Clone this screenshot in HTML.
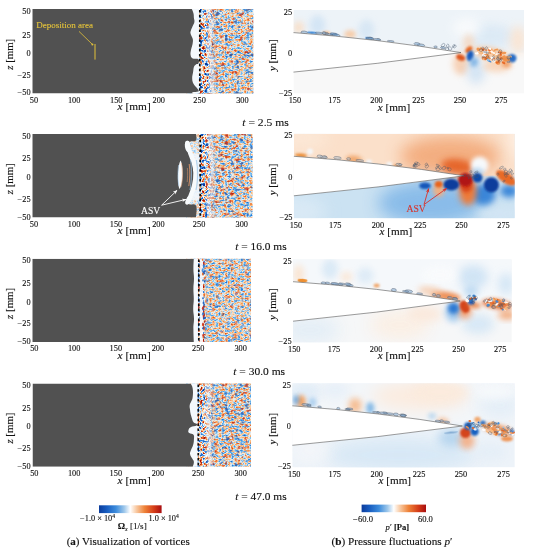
<!DOCTYPE html>
<html lang="en"><head><meta charset="utf-8"><title>Figure</title>
<style>
html,body{margin:0;padding:0;background:#fff;}
svg{display:block;font-family:"Liberation Serif",serif;}
</style></head><body>
<svg width="533" height="550" viewBox="0 0 533 550">
<defs>
<filter id="nzA" x="0" y="0" width="100%" height="100%" color-interpolation-filters="sRGB">
<feTurbulence type="fractalNoise" baseFrequency="0.36 0.30" numOctaves="2" seed="11"/>
<feColorMatrix type="matrix" values="2.0 0 0 0 -0.5  2.0 0 0 0 -0.5  2.0 0 0 0 -0.5  0 0 0 0 1"/>
<feComponentTransfer>
<feFuncR type="table" tableValues="0.05 0.10 0.25 0.66 1 0.98 0.93 0.84 0.66"/>
<feFuncG type="table" tableValues="0.22 0.38 0.56 0.82 1 0.80 0.52 0.28 0.06"/>
<feFuncB type="table" tableValues="0.60 0.78 0.88 0.96 1 0.60 0.26 0.12 0.06"/>
</feComponentTransfer>
<feGaussianBlur stdDeviation="0.35"/>
</filter>
<filter id="nzC" x="0" y="0" width="100%" height="100%" color-interpolation-filters="sRGB">
<feTurbulence type="fractalNoise" baseFrequency="0.20 0.24" numOctaves="2" seed="23"/>
<feColorMatrix type="matrix" values="1.7 0 0 0 -0.35  1.7 0 0 0 -0.35  1.7 0 0 0 -0.35  1.7 0 0 0 -0.35"/>
<feComponentTransfer>
<feFuncR type="table" tableValues="0.06 0.12 0.25 0.60 1 0.98 0.93 0.86 0.70"/>
<feFuncG type="table" tableValues="0.28 0.42 0.58 0.80 1 0.78 0.50 0.30 0.10"/>
<feFuncB type="table" tableValues="0.66 0.80 0.88 0.95 1 0.56 0.26 0.14 0.06"/>
<feFuncA type="table" tableValues="1 0.9 0.35 0 0 0 0.35 0.9 1"/>
</feComponentTransfer>
<feGaussianBlur stdDeviation="0.4"/>
</filter>
<linearGradient id="fadeR" x1="0" x2="1" y1="0" y2="0"><stop offset="0" stop-color="#fff"/><stop offset="0.55" stop-color="#fff"/><stop offset="1" stop-color="#000"/></linearGradient>
<filter id="nzB" x="0" y="0" width="100%" height="100%" color-interpolation-filters="sRGB">
<feTurbulence type="fractalNoise" baseFrequency="0.32 0.46" numOctaves="2" seed="5"/>
<feColorMatrix type="matrix" values="1.5 0 0 0 -0.225  1.5 0 0 0 -0.225  1.5 0 0 0 -0.225  0 0 0 0 1"/>
<feComponentTransfer>
<feFuncR type="table" tableValues="0.10 0.20 0.36 0.58 0.92 0.98 0.97 0.95 0.86"/>
<feFuncG type="table" tableValues="0.42 0.54 0.67 0.80 0.93 0.80 0.68 0.50 0.28"/>
<feFuncB type="table" tableValues="0.84 0.88 0.92 0.95 0.94 0.62 0.42 0.24 0.10"/>
</feComponentTransfer>
<feGaussianBlur stdDeviation="0.4"/>
</filter>
<filter id="b1" x="-50%" y="-50%" width="200%" height="200%"><feGaussianBlur stdDeviation="1"/></filter>
<filter id="b2" x="-50%" y="-50%" width="200%" height="200%"><feGaussianBlur stdDeviation="2"/></filter>
<filter id="b3" x="-50%" y="-50%" width="200%" height="200%"><feGaussianBlur stdDeviation="3.2"/></filter>
<filter id="b5" x="-50%" y="-50%" width="200%" height="200%"><feGaussianBlur stdDeviation="5"/></filter>
<filter id="b8" x="-50%" y="-50%" width="200%" height="200%"><feGaussianBlur stdDeviation="8"/></filter>
<filter id="b05" x="-50%" y="-50%" width="200%" height="200%"><feGaussianBlur stdDeviation="0.5"/></filter>
<linearGradient id="cbar" x1="0" x2="1" y1="0" y2="0">
<stop offset="0" stop-color="#0b3c9c"/><stop offset="0.12" stop-color="#175cc0"/><stop offset="0.27" stop-color="#3d8cdc"/>
<stop offset="0.40" stop-color="#9cc6ea"/><stop offset="0.5" stop-color="#ffffff"/><stop offset="0.60" stop-color="#f8c8a0"/>
<stop offset="0.73" stop-color="#ee8238"/><stop offset="0.88" stop-color="#d43c18"/><stop offset="1" stop-color="#a80d10"/>
</linearGradient>
<marker id="arW" viewBox="0 0 10 10" refX="9" refY="5" markerWidth="5" markerHeight="5" orient="auto"><path d="M0,1 L10,5 L0,9 L3,5 z" fill="#fff"/></marker>
<marker id="arR" viewBox="0 0 10 10" refX="9" refY="5" markerWidth="5" markerHeight="5" orient="auto"><path d="M0,1 L10,5 L0,9 L3,5 z" fill="#d8322a"/></marker>

<clipPath id="ca0"><rect x="32.3" y="9.1" width="221.00" height="84.50"/></clipPath>
<clipPath id="ca1"><rect x="32.3" y="134.1" width="220.30" height="83.30"/></clipPath>
<clipPath id="ca2"><rect x="32.3" y="258.8" width="218.70" height="83.10"/></clipPath>
<clipPath id="ca3"><rect x="32.5" y="383.6" width="218.50" height="83.10"/></clipPath>
<clipPath id="cb0"><rect x="293.5" y="10.1" width="230.50" height="83.50"/></clipPath>
<clipPath id="cb1"><rect x="293.9" y="133.8" width="220.90" height="84.50"/></clipPath>
<clipPath id="cb2"><rect x="293.0" y="259.2" width="218.80" height="83.20"/></clipPath>
<clipPath id="cb3"><rect x="292.3" y="383.3" width="222.50" height="84.10"/></clipPath>
</defs>
<rect width="533" height="550" fill="#fff"/>
<g clip-path="url(#ca0)">
<rect x="186" y="8.1" width="68.3" height="86.5" filter="url(#nzB)"/>
<rect x="198.3" y="8.1" width="56.0" height="86.5" filter="url(#nzC)" opacity="0.75"/>
<mask id="mk0" maskUnits="userSpaceOnUse" x="198.3" y="8.1" width="19" height="86.5"><rect x="198.3" y="8.1" width="19" height="86.5" fill="url(#fadeR)"/></mask>
<g mask="url(#mk0)"><rect x="198.3" y="8.1" width="19" height="86.5" filter="url(#nzA)"/></g>
<path d="M210.1,7.1 L207.9,15.6 L212.7,21.7 L208.4,29.4 L212.3,35.8 L207.8,42.6 L208.4,51.1 L210.9,58.7 L212.7,65.5 L210.8,71.3 L212.7,76.7 L210.4,82.3 L212.3,90.6 L212.3,96.0" fill="none" stroke="#f4f8fb" stroke-width="4.2" stroke-linejoin="round" opacity="0.62" filter="url(#b1)"/>
<rect x="186" y="8.1" width="13.2" height="86.5" fill="#f4f8fc"/>
<path d="M32.3,9.1 L191.8,9.1 C192.2,10.0 193.0,11.5 193.5,13.4 C194.0,15.3 193.7,15.8 193.9,17.7 C194.1,19.6 194.7,20.1 194.4,21.9 C194.1,23.7 193.4,24.3 192.7,26.1 C192.0,27.9 191.5,28.6 191.0,30.3 C190.5,32.0 190.2,31.8 190.6,33.7 C191.0,35.6 192.2,36.7 192.7,38.8 C193.2,40.9 192.9,41.3 192.7,43.1 C192.5,44.9 192.2,45.6 191.8,47.1 C191.4,48.6 191.3,48.3 191.0,50.1 C190.7,51.9 190.2,53.3 190.6,55.1 C191.0,56.9 191.0,57.5 192.7,58.4 C194.4,59.3 197.1,58.2 198.4,59.3 C199.7,60.4 198.9,62.4 198.4,63.5 C197.9,64.6 197.0,63.7 196.0,64.4 C195.0,65.1 194.5,65.2 193.9,66.9 C193.3,68.6 193.5,69.5 193.1,72.1 C192.7,74.7 192.1,76.1 192.2,78.7 C192.3,81.3 192.7,82.0 193.5,83.8 C194.3,85.6 195.0,85.8 196.0,87.1 C197.0,88.4 197.7,88.7 198.2,89.7 C198.7,90.7 199.4,91.0 198.2,91.6 C197.0,92.2 193.9,91.9 192.7,92.3 C191.5,92.7 192.7,93.3 192.7,93.6 L32.3,93.6Z" fill="#515151"/>
<line x1="199.8" y1="9.9" x2="199.8" y2="93.6" stroke="#0a0a0a" stroke-width="1.7" stroke-dasharray="2.5 2.4"/>
</g>
<text x="30.60" y="14.10" font-size="8.3" text-anchor="end" fill="#111" stroke="#111" stroke-width="0.12" >50</text>
<text x="30.60" y="37.50" font-size="8.3" text-anchor="end" fill="#111" stroke="#111" stroke-width="0.12" >25</text>
<text x="30.60" y="56.30" font-size="8.3" text-anchor="end" fill="#111" stroke="#111" stroke-width="0.12" >0</text>
<text x="30.60" y="77.90" font-size="8.3" text-anchor="end" fill="#111" stroke="#111" stroke-width="0.12" >−25</text>
<text x="30.60" y="95.10" font-size="8.3" text-anchor="end" fill="#111" stroke="#111" stroke-width="0.12" >−50</text>
<text x="34.00" y="102.95" font-size="8.3" text-anchor="middle" fill="#111" stroke="#111" stroke-width="0.12" >50</text>
<text x="74.20" y="102.95" font-size="8.3" text-anchor="middle" fill="#111" stroke="#111" stroke-width="0.12" >100</text>
<text x="116.30" y="102.95" font-size="8.3" text-anchor="middle" fill="#111" stroke="#111" stroke-width="0.12" >150</text>
<text x="158.80" y="102.95" font-size="8.3" text-anchor="middle" fill="#111" stroke="#111" stroke-width="0.12" >200</text>
<text x="199.60" y="102.95" font-size="8.3" text-anchor="middle" fill="#111" stroke="#111" stroke-width="0.12" >250</text>
<text x="242.40" y="102.95" font-size="8.3" text-anchor="middle" fill="#111" stroke="#111" stroke-width="0.12" >300</text>
<text x="134.10" y="110.40" font-size="11.2" text-anchor="middle" fill="#111" stroke="#111" stroke-width="0.12"  textLength="33.2" lengthAdjust="spacingAndGlyphs"><tspan font-style="italic">x</tspan> [mm]</text>
<text x="0.00" y="0.00" font-size="11.2" text-anchor="middle" fill="#111" stroke="#111" stroke-width="0.12" transform="translate(13.2,54.3) rotate(-90)" textLength="31" lengthAdjust="spacingAndGlyphs"><tspan font-style="italic">z</tspan> [mm]</text>
<g clip-path="url(#ca1)">
<rect x="186" y="133.1" width="67.6" height="85.3" filter="url(#nzB)"/>
<rect x="198.7" y="133.1" width="54.9" height="85.3" filter="url(#nzC)" opacity="0.75"/>
<mask id="mk1" maskUnits="userSpaceOnUse" x="198.7" y="133.1" width="18" height="85.3"><rect x="198.7" y="133.1" width="18" height="85.3" fill="url(#fadeR)"/></mask>
<g mask="url(#mk1)"><rect x="198.7" y="133.1" width="18" height="85.3" filter="url(#nzA)"/></g>
<path d="M210.1,132.1 L209.0,138.0 L211.1,146.7 L211.0,154.4 L211.9,161.0 L212.2,168.3 L212.5,175.9 L208.9,182.7 L211.9,188.3 L211.5,194.0 L208.4,201.4 L208.3,209.6 L212.5,218.0" fill="none" stroke="#f4f8fb" stroke-width="4.2" stroke-linejoin="round" opacity="0.62" filter="url(#b1)"/>
<rect x="186" y="154.1" width="13.6" height="46" fill="#eef4fa" opacity="0.9"/>
<rect x="186" y="133.1" width="13.6" height="85.3" fill="#f4f8fc" opacity="0.45"/>
<path d="M32.3,134.1 L196.0,134.1 C196.0,135.5 197.4,138.8 196.0,140.6 C194.6,142.4 190.9,140.0 189.5,142.1 C188.1,144.2 189.0,147.5 189.5,150.1 C190.0,152.7 190.8,152.3 191.6,154.1 C192.4,155.9 192.5,155.5 193.2,158.1 C193.9,160.7 194.5,163.0 195.0,166.1 C195.5,169.2 195.6,169.0 195.6,172.1 C195.6,175.2 195.5,176.6 195.0,180.1 C194.5,183.6 194.4,184.6 193.4,188.1 C192.4,191.6 191.6,193.5 190.6,196.1 C189.6,198.7 189.4,198.3 189.0,200.1 C188.6,201.9 187.1,202.9 188.6,204.1 C190.1,205.3 194.4,202.7 196.0,205.6 C197.6,208.5 196.0,214.8 196.0,217.4 L32.3,217.4Z" fill="#515151"/>
<line x1="200.2" y1="134.9" x2="200.2" y2="217.4" stroke="#0a0a0a" stroke-width="1.7" stroke-dasharray="2.5 2.4"/>
</g>
<text x="30.60" y="138.60" font-size="8.3" text-anchor="end" fill="#111" stroke="#111" stroke-width="0.12" >50</text>
<text x="30.60" y="161.10" font-size="8.3" text-anchor="end" fill="#111" stroke="#111" stroke-width="0.12" >25</text>
<text x="30.60" y="180.00" font-size="8.3" text-anchor="end" fill="#111" stroke="#111" stroke-width="0.12" >0</text>
<text x="30.60" y="201.60" font-size="8.3" text-anchor="end" fill="#111" stroke="#111" stroke-width="0.12" >−25</text>
<text x="30.60" y="219.70" font-size="8.3" text-anchor="end" fill="#111" stroke="#111" stroke-width="0.12" >−50</text>
<text x="33.99" y="226.75" font-size="8.3" text-anchor="middle" fill="#111" stroke="#111" stroke-width="0.12" >50</text>
<text x="74.07" y="226.75" font-size="8.3" text-anchor="middle" fill="#111" stroke="#111" stroke-width="0.12" >100</text>
<text x="116.03" y="226.75" font-size="8.3" text-anchor="middle" fill="#111" stroke="#111" stroke-width="0.12" >150</text>
<text x="158.40" y="226.75" font-size="8.3" text-anchor="middle" fill="#111" stroke="#111" stroke-width="0.12" >200</text>
<text x="199.07" y="226.75" font-size="8.3" text-anchor="middle" fill="#111" stroke="#111" stroke-width="0.12" >250</text>
<text x="241.73" y="226.75" font-size="8.3" text-anchor="middle" fill="#111" stroke="#111" stroke-width="0.12" >300</text>
<text x="134.10" y="234.20" font-size="11.2" text-anchor="middle" fill="#111" stroke="#111" stroke-width="0.12"  textLength="33.2" lengthAdjust="spacingAndGlyphs"><tspan font-style="italic">x</tspan> [mm]</text>
<text x="0.00" y="0.00" font-size="11.2" text-anchor="middle" fill="#111" stroke="#111" stroke-width="0.12" transform="translate(13.2,178.8) rotate(-90)" textLength="31" lengthAdjust="spacingAndGlyphs"><tspan font-style="italic">z</tspan> [mm]</text>
<g clip-path="url(#ca2)">
<rect x="186" y="257.8" width="66.0" height="85.1" filter="url(#nzB)"/>
<rect x="197.3" y="257.8" width="54.7" height="85.1" filter="url(#nzC)" opacity="0.4"/>
<mask id="mk2" maskUnits="userSpaceOnUse" x="197.3" y="257.8" width="11" height="85.1"><rect x="197.3" y="257.8" width="11" height="85.1" fill="url(#fadeR)"/></mask>
<g mask="url(#mk2)"><rect x="197.3" y="257.8" width="11" height="85.1" filter="url(#nzA)"/></g>
<rect x="199.6" y="257.8" width="3.4" height="85.1" fill="#f8fafc" opacity="0.92"/>
<ellipse cx="202.9" cy="325.2" rx="0.9" ry="1.1" fill="#e8651f" opacity="0.9"/>
<ellipse cx="203.4" cy="336.9" rx="0.9" ry="1.5" fill="#e8651f" opacity="0.9"/>
<ellipse cx="203.5" cy="309.6" rx="0.9" ry="1.6" fill="#1c5cc0" opacity="0.9"/>
<ellipse cx="202.6" cy="259.0" rx="0.9" ry="2.0" fill="#e8651f" opacity="0.9"/>
<ellipse cx="203.4" cy="273.1" rx="0.9" ry="1.8" fill="#1c5cc0" opacity="0.9"/>
<ellipse cx="202.8" cy="274.0" rx="0.9" ry="1.5" fill="#e8651f" opacity="0.9"/>
<ellipse cx="202.9" cy="280.4" rx="0.9" ry="1.1" fill="#3a86d6" opacity="0.9"/>
<ellipse cx="203.7" cy="265.5" rx="0.9" ry="1.9" fill="#1c5cc0" opacity="0.9"/>
<ellipse cx="202.8" cy="308.3" rx="0.9" ry="1.8" fill="#c8281a" opacity="0.9"/>
<ellipse cx="203.8" cy="317.6" rx="0.9" ry="1.8" fill="#1c5cc0" opacity="0.9"/>
<ellipse cx="203.9" cy="266.7" rx="0.9" ry="1.9" fill="#3a86d6" opacity="0.9"/>
<ellipse cx="203.0" cy="324.0" rx="0.9" ry="1.6" fill="#c8281a" opacity="0.9"/>
<ellipse cx="203.2" cy="335.2" rx="0.9" ry="1.5" fill="#c8281a" opacity="0.9"/>
<ellipse cx="203.8" cy="327.6" rx="0.9" ry="1.9" fill="#3a86d6" opacity="0.9"/>
<ellipse cx="203.5" cy="302.9" rx="0.9" ry="1.3" fill="#1c5cc0" opacity="0.9"/>
<ellipse cx="202.6" cy="270.3" rx="0.9" ry="2.0" fill="#3a86d6" opacity="0.9"/>
<ellipse cx="203.8" cy="263.1" rx="0.9" ry="1.7" fill="#c8281a" opacity="0.9"/>
<ellipse cx="204.2" cy="294.8" rx="0.9" ry="1.9" fill="#e8651f" opacity="0.9"/>
<ellipse cx="203.6" cy="316.0" rx="0.9" ry="1.8" fill="#c8281a" opacity="0.9"/>
<ellipse cx="203.1" cy="313.2" rx="0.9" ry="1.0" fill="#1c5cc0" opacity="0.9"/>
<ellipse cx="204.1" cy="328.9" rx="0.9" ry="1.7" fill="#e8651f" opacity="0.9"/>
<ellipse cx="203.9" cy="306.6" rx="0.9" ry="1.1" fill="#c8281a" opacity="0.9"/>
<ellipse cx="203.7" cy="327.7" rx="0.9" ry="1.2" fill="#c8281a" opacity="0.9"/>
<ellipse cx="202.8" cy="314.2" rx="0.9" ry="1.3" fill="#3a86d6" opacity="0.9"/>
<ellipse cx="203.0" cy="298.3" rx="0.9" ry="1.1" fill="#1c5cc0" opacity="0.9"/>
<ellipse cx="202.9" cy="328.4" rx="0.9" ry="0.9" fill="#1c5cc0" opacity="0.9"/>
<rect x="186" y="257.8" width="12.2" height="85.1" fill="#f4f8fc"/>
<path d="M32.3,258.8 L193.8,258.8 C193.7,261.0 193.4,264.4 193.4,268.8 C193.4,273.2 194.0,274.4 194.0,278.8 C194.0,283.2 193.4,284.4 193.4,288.8 C193.4,293.2 193.8,294.4 193.8,298.8 C193.8,303.1 193.2,304.3 193.2,308.7 C193.2,313.1 194.0,314.3 194.0,318.7 C194.0,323.1 193.4,323.6 193.4,328.7 C193.4,333.8 193.7,339.0 193.8,341.9 L32.3,341.9Z" fill="#515151"/>
<line x1="198.8" y1="259.6" x2="198.8" y2="341.9" stroke="#0a0a0a" stroke-width="1.7" stroke-dasharray="2.5 2.4"/>
</g>
<text x="30.60" y="263.29" font-size="8.3" text-anchor="end" fill="#111" stroke="#111" stroke-width="0.12" >50</text>
<text x="30.60" y="285.74" font-size="8.3" text-anchor="end" fill="#111" stroke="#111" stroke-width="0.12" >25</text>
<text x="30.60" y="304.59" font-size="8.3" text-anchor="end" fill="#111" stroke="#111" stroke-width="0.12" >0</text>
<text x="30.60" y="326.14" font-size="8.3" text-anchor="end" fill="#111" stroke="#111" stroke-width="0.12" >−25</text>
<text x="30.60" y="344.19" font-size="8.3" text-anchor="end" fill="#111" stroke="#111" stroke-width="0.12" >−50</text>
<text x="34.38" y="351.25" font-size="8.3" text-anchor="middle" fill="#111" stroke="#111" stroke-width="0.12" >50</text>
<text x="74.16" y="351.25" font-size="8.3" text-anchor="middle" fill="#111" stroke="#111" stroke-width="0.12" >100</text>
<text x="115.83" y="351.25" font-size="8.3" text-anchor="middle" fill="#111" stroke="#111" stroke-width="0.12" >150</text>
<text x="157.88" y="351.25" font-size="8.3" text-anchor="middle" fill="#111" stroke="#111" stroke-width="0.12" >200</text>
<text x="198.26" y="351.25" font-size="8.3" text-anchor="middle" fill="#111" stroke="#111" stroke-width="0.12" >250</text>
<text x="240.61" y="351.25" font-size="8.3" text-anchor="middle" fill="#111" stroke="#111" stroke-width="0.12" >300</text>
<text x="134.10" y="358.70" font-size="11.2" text-anchor="middle" fill="#111" stroke="#111" stroke-width="0.12"  textLength="33.2" lengthAdjust="spacingAndGlyphs"><tspan font-style="italic">x</tspan> [mm]</text>
<text x="0.00" y="0.00" font-size="11.2" text-anchor="middle" fill="#111" stroke="#111" stroke-width="0.12" transform="translate(13.2,303.4) rotate(-90)" textLength="31" lengthAdjust="spacingAndGlyphs"><tspan font-style="italic">z</tspan> [mm]</text>
<g clip-path="url(#ca3)">
<rect x="186" y="382.6" width="66.0" height="85.1" filter="url(#nzB)"/>
<rect x="196.8" y="382.6" width="55.2" height="85.1" filter="url(#nzC)" opacity="0.75"/>
<mask id="mk3" maskUnits="userSpaceOnUse" x="196.8" y="382.6" width="19" height="85.1"><rect x="196.8" y="382.6" width="19" height="85.1" fill="url(#fadeR)"/></mask>
<g mask="url(#mk3)"><rect x="196.8" y="382.6" width="19" height="85.1" filter="url(#nzA)"/></g>
<path d="M206.4,381.6 L206.9,389.4 L209.7,396.2 L208.6,404.4 L206.3,411.4 L208.1,418.1 L209.0,426.5 L208.5,434.6 L210.6,440.3 L208.2,448.5 L208.9,453.9 L210.2,460.9 L208.8,468.3" fill="none" stroke="#f4f8fb" stroke-width="4.2" stroke-linejoin="round" opacity="0.62" filter="url(#b1)"/>
<rect x="186" y="382.6" width="11.7" height="85.1" fill="#f4f8fc"/>
<path d="M32.5,383.6 L190.6,383.6 C191.1,384.7 192.2,385.5 192.7,388.4 C193.2,391.3 193.0,394.1 192.7,396.9 C192.4,399.7 192.1,399.3 191.4,401.1 C190.7,402.9 190.0,403.4 189.7,405.3 C189.4,407.2 189.8,407.7 190.0,409.6 C190.2,411.5 190.2,412.0 190.6,413.8 C191.0,415.6 191.2,416.2 191.8,418.0 C192.4,419.8 192.4,420.9 193.5,422.2 C194.6,423.5 195.9,423.1 196.6,423.8 C197.3,424.5 197.9,424.9 196.6,425.6 C195.3,426.3 192.4,426.1 190.6,427.2 C188.8,428.3 188.7,429.3 188.4,430.6 C188.1,431.9 188.2,432.2 189.3,433.1 C190.4,434.0 192.5,433.3 193.5,434.8 C194.5,436.3 194.0,437.7 193.9,439.9 C193.8,442.1 193.7,442.8 193.1,445.0 C192.5,447.2 191.7,448.0 191.0,450.0 C190.3,452.0 189.8,452.3 190.1,454.2 C190.4,456.1 191.4,456.8 192.2,458.5 C193.0,460.2 193.8,460.1 193.9,461.9 C194.0,463.7 193.0,465.6 192.7,466.7 L32.5,466.7Z" fill="#515151"/>
<line x1="198.3" y1="384.4" x2="198.3" y2="466.7" stroke="#0a0a0a" stroke-width="1.7" stroke-dasharray="2.5 2.4"/>
</g>
<text x="30.60" y="388.09" font-size="8.3" text-anchor="end" fill="#111" stroke="#111" stroke-width="0.12" >50</text>
<text x="30.60" y="410.54" font-size="8.3" text-anchor="end" fill="#111" stroke="#111" stroke-width="0.12" >25</text>
<text x="30.60" y="429.39" font-size="8.3" text-anchor="end" fill="#111" stroke="#111" stroke-width="0.12" >0</text>
<text x="30.60" y="450.94" font-size="8.3" text-anchor="end" fill="#111" stroke="#111" stroke-width="0.12" >−25</text>
<text x="30.60" y="468.99" font-size="8.3" text-anchor="end" fill="#111" stroke="#111" stroke-width="0.12" >−50</text>
<text x="34.38" y="476.05" font-size="8.3" text-anchor="middle" fill="#111" stroke="#111" stroke-width="0.12" >50</text>
<text x="74.16" y="476.05" font-size="8.3" text-anchor="middle" fill="#111" stroke="#111" stroke-width="0.12" >100</text>
<text x="115.83" y="476.05" font-size="8.3" text-anchor="middle" fill="#111" stroke="#111" stroke-width="0.12" >150</text>
<text x="157.88" y="476.05" font-size="8.3" text-anchor="middle" fill="#111" stroke="#111" stroke-width="0.12" >200</text>
<text x="198.26" y="476.05" font-size="8.3" text-anchor="middle" fill="#111" stroke="#111" stroke-width="0.12" >250</text>
<text x="240.61" y="476.05" font-size="8.3" text-anchor="middle" fill="#111" stroke="#111" stroke-width="0.12" >300</text>
<text x="134.10" y="483.50" font-size="11.2" text-anchor="middle" fill="#111" stroke="#111" stroke-width="0.12"  textLength="33.2" lengthAdjust="spacingAndGlyphs"><tspan font-style="italic">x</tspan> [mm]</text>
<text x="0.00" y="0.00" font-size="11.2" text-anchor="middle" fill="#111" stroke="#111" stroke-width="0.12" transform="translate(13.2,428.1) rotate(-90)" textLength="31" lengthAdjust="spacingAndGlyphs"><tspan font-style="italic">z</tspan> [mm]</text>
<g clip-path="url(#cb0)">
<rect x="293.5" y="10.1" width="230.5" height="83.5" fill="#f8f8f8"/>
<path d="M293.5,10.1 L524.0,10.1 L524.0,52.6 L461.0,52.6 Q377.2,38.6 293.5,32.6 Z" fill="#edf3f8"/>
<ellipse cx="490.0" cy="36.0" rx="24.0" ry="12.0" fill="#dbe9f5" opacity="0.9" filter="url(#b5)"/>
<ellipse cx="467.0" cy="28.0" rx="14.0" ry="10.0" fill="#fbfcfd" opacity="0.8" filter="url(#b5)"/>
<ellipse cx="518.0" cy="40.0" rx="8.0" ry="14.0" fill="#fbe4d0" opacity="0.9" filter="url(#b5)"/>
<ellipse cx="461.0" cy="64.0" rx="8.0" ry="11.0" fill="#f6c4a0" opacity="0.75" filter="url(#b3)"/>
<ellipse cx="468.6" cy="43.0" rx="5.5" ry="9.0" fill="#f8d2b4" opacity="0.7" filter="url(#b3)"/>
<ellipse cx="476.0" cy="71.0" rx="9.0" ry="13.0" fill="#c4dcf2" opacity="0.7" filter="url(#b5)"/>
<ellipse cx="497.0" cy="66.0" rx="14.0" ry="6.0" fill="#f8cfae" opacity="0.8" filter="url(#b3)"/>
<ellipse cx="492.0" cy="54.5" rx="19.0" ry="7.0" fill="#f6c39a" opacity="0.8" filter="url(#b2)" transform="rotate(14 492.0 54.5)"/>
<ellipse cx="460.6" cy="57.6" rx="4.6" ry="3.0" fill="#de541c" opacity="1" filter="url(#b1)" transform="rotate(22 460.6 57.6)"/>
<ellipse cx="468.8" cy="49.6" rx="4.2" ry="2.6" fill="#e8651f" opacity="0.95" filter="url(#b1)" transform="rotate(-42 468.8 49.6)"/>
<ellipse cx="470.2" cy="55.8" rx="3.4" ry="5.4" fill="#1258ba" opacity="1" filter="url(#b1)" transform="rotate(14 470.2 55.8)"/>
<ellipse cx="474.0" cy="62.0" rx="4.0" ry="5.0" fill="#6aa8e2" opacity="0.8" filter="url(#b2)" transform="rotate(20 474.0 62.0)"/>
<ellipse cx="512.0" cy="58.3" rx="4.4" ry="4.2" fill="#1c66c4" opacity="0.95" filter="url(#b1)"/>
<ellipse cx="506.5" cy="64.2" rx="4.5" ry="3.0" fill="#ee8a44" opacity="0.85" filter="url(#b2)"/>
<ellipse cx="298.7" cy="27.6" rx="5.0" ry="6.0" fill="#fbdcc0" opacity="0.9" filter="url(#b3)"/>
<ellipse cx="317.5" cy="25.0" rx="8.0" ry="10.0" fill="#d2e4f4" opacity="0.9" filter="url(#b3)"/>
<ellipse cx="326.3" cy="33.4" rx="4.0" ry="2.4" fill="#f6c090" opacity="0.9" filter="url(#b1)"/>
<ellipse cx="350.2" cy="34.2" rx="6.0" ry="4.0" fill="#f8c8a0" opacity="0.9" filter="url(#b2)"/>
<ellipse cx="366.5" cy="29.5" rx="8.0" ry="10.0" fill="#d6e6f4" opacity="0.9" filter="url(#b3)"/>
<ellipse cx="312.0" cy="32.6" rx="5.0" ry="1.2" fill="#3a86d6" opacity="0.9" filter="url(#b05)" transform="rotate(5 312.0 32.6)"/>
<ellipse cx="334.0" cy="34.4" rx="4.0" ry="1.2" fill="#3a86d6" opacity="0.8" filter="url(#b05)" transform="rotate(5 334.0 34.4)"/>
<ellipse cx="369.0" cy="38.2" rx="4.0" ry="1.2" fill="#3a86d6" opacity="0.8" filter="url(#b05)" transform="rotate(6 369.0 38.2)"/>
<g filter="url(#b05)"><ellipse cx="483.7" cy="53.8" rx="1.6" ry="1.4" fill="#e8651f" opacity="0.9" transform="rotate(8 483.7 53.8)"/><ellipse cx="507.4" cy="58.6" rx="1.9" ry="0.9" fill="#8fc0ea" opacity="0.9" transform="rotate(3 507.4 58.6)"/><ellipse cx="495.1" cy="54.5" rx="2.4" ry="1.0" fill="#f09048" opacity="0.9" transform="rotate(29 495.1 54.5)"/><ellipse cx="493.0" cy="59.0" rx="2.1" ry="0.8" fill="#e8651f" opacity="0.9" transform="rotate(-16 493.0 59.0)"/><ellipse cx="491.3" cy="58.2" rx="2.4" ry="1.5" fill="#ffffff" opacity="0.9" transform="rotate(-8 491.3 58.2)"/><ellipse cx="503.7" cy="57.4" rx="2.5" ry="1.7" fill="#f09048" opacity="0.9" transform="rotate(-37 503.7 57.4)"/><ellipse cx="493.6" cy="52.2" rx="2.1" ry="1.6" fill="#f6b880" opacity="0.9" transform="rotate(-6 493.6 52.2)"/><ellipse cx="504.4" cy="59.4" rx="1.9" ry="1.2" fill="#f09048" opacity="0.9" transform="rotate(32 504.4 59.4)"/><ellipse cx="497.9" cy="62.9" rx="2.4" ry="1.8" fill="#f09048" opacity="0.9" transform="rotate(16 497.9 62.9)"/><ellipse cx="486.8" cy="54.6" rx="1.9" ry="0.8" fill="#f09048" opacity="0.9" transform="rotate(11 486.8 54.6)"/><ellipse cx="479.9" cy="52.0" rx="2.0" ry="1.2" fill="#ffffff" opacity="0.9" transform="rotate(24 479.9 52.0)"/><ellipse cx="491.1" cy="50.0" rx="1.5" ry="1.6" fill="#f09048" opacity="0.9" transform="rotate(-36 491.1 50.0)"/><ellipse cx="498.5" cy="50.3" rx="2.1" ry="1.1" fill="#f6b880" opacity="0.9" transform="rotate(0 498.5 50.3)"/><ellipse cx="477.9" cy="53.2" rx="1.1" ry="0.9" fill="#ffffff" opacity="0.9" transform="rotate(-17 477.9 53.2)"/><ellipse cx="484.1" cy="56.0" rx="2.6" ry="1.1" fill="#ffffff" opacity="0.9" transform="rotate(37 484.1 56.0)"/><ellipse cx="507.3" cy="57.3" rx="1.7" ry="1.3" fill="#f09048" opacity="0.9" transform="rotate(10 507.3 57.3)"/><ellipse cx="508.4" cy="59.4" rx="1.7" ry="1.5" fill="#f09048" opacity="0.9" transform="rotate(35 508.4 59.4)"/><ellipse cx="491.6" cy="51.7" rx="1.5" ry="1.1" fill="#ffffff" opacity="0.9" transform="rotate(39 491.6 51.7)"/><ellipse cx="487.0" cy="52.2" rx="1.9" ry="0.8" fill="#f6b880" opacity="0.9" transform="rotate(-3 487.0 52.2)"/><ellipse cx="499.8" cy="55.1" rx="2.1" ry="1.5" fill="#e8651f" opacity="0.9" transform="rotate(7 499.8 55.1)"/><ellipse cx="488.0" cy="56.1" rx="1.5" ry="1.4" fill="#f09048" opacity="0.9" transform="rotate(-11 488.0 56.1)"/><ellipse cx="486.9" cy="52.1" rx="2.0" ry="1.0" fill="#ffffff" opacity="0.9" transform="rotate(-32 486.9 52.1)"/><ellipse cx="500.7" cy="52.1" rx="1.8" ry="1.4" fill="#f6b880" opacity="0.9" transform="rotate(-21 500.7 52.1)"/><ellipse cx="482.3" cy="51.9" rx="2.1" ry="0.8" fill="#f6b880" opacity="0.9" transform="rotate(36 482.3 51.9)"/><ellipse cx="500.0" cy="53.3" rx="2.3" ry="1.8" fill="#e8651f" opacity="0.9" transform="rotate(-13 500.0 53.3)"/><ellipse cx="496.9" cy="62.0" rx="1.7" ry="1.0" fill="#f09048" opacity="0.9" transform="rotate(-37 496.9 62.0)"/><ellipse cx="509.6" cy="57.0" rx="2.3" ry="1.3" fill="#f6b880" opacity="0.9" transform="rotate(-13 509.6 57.0)"/><ellipse cx="496.9" cy="57.8" rx="1.7" ry="1.3" fill="#f6b880" opacity="0.9" transform="rotate(-3 496.9 57.8)"/><ellipse cx="498.4" cy="53.8" rx="1.9" ry="0.7" fill="#ffffff" opacity="0.9" transform="rotate(-28 498.4 53.8)"/><ellipse cx="489.2" cy="61.0" rx="2.5" ry="0.9" fill="#3a86d6" opacity="0.9" transform="rotate(27 489.2 61.0)"/><ellipse cx="498.6" cy="57.2" rx="1.5" ry="1.1" fill="#f09048" opacity="0.9" transform="rotate(29 498.6 57.2)"/><ellipse cx="480.6" cy="48.7" rx="1.1" ry="1.6" fill="#f09048" opacity="0.9" transform="rotate(32 480.6 48.7)"/><ellipse cx="506.7" cy="60.0" rx="1.0" ry="1.5" fill="#f09048" opacity="0.9" transform="rotate(0 506.7 60.0)"/><ellipse cx="495.8" cy="49.8" rx="2.5" ry="0.8" fill="#f09048" opacity="0.9" transform="rotate(-20 495.8 49.8)"/><ellipse cx="505.7" cy="58.3" rx="2.3" ry="1.1" fill="#f09048" opacity="0.9" transform="rotate(-30 505.7 58.3)"/><ellipse cx="484.7" cy="50.2" rx="2.4" ry="0.8" fill="#e8651f" opacity="0.9" transform="rotate(-1 484.7 50.2)"/><ellipse cx="495.8" cy="54.8" rx="2.2" ry="1.0" fill="#ffffff" opacity="0.9" transform="rotate(-36 495.8 54.8)"/><ellipse cx="485.7" cy="58.3" rx="2.4" ry="1.6" fill="#e8651f" opacity="0.9" transform="rotate(-30 485.7 58.3)"/><ellipse cx="493.7" cy="53.0" rx="1.5" ry="1.1" fill="#ffffff" opacity="0.9" transform="rotate(7 493.7 53.0)"/><ellipse cx="489.2" cy="50.1" rx="1.5" ry="0.8" fill="#e8651f" opacity="0.9" transform="rotate(17 489.2 50.1)"/><ellipse cx="490.2" cy="48.8" rx="1.3" ry="1.1" fill="#ffffff" opacity="0.9" transform="rotate(11 490.2 48.8)"/><ellipse cx="477.0" cy="53.3" rx="2.2" ry="1.1" fill="#ffffff" opacity="0.9" transform="rotate(-3 477.0 53.3)"/><ellipse cx="484.0" cy="53.8" rx="2.1" ry="0.8" fill="#ffffff" opacity="0.9" transform="rotate(-22 484.0 53.8)"/><ellipse cx="493.8" cy="61.0" rx="1.2" ry="1.5" fill="#ffffff" opacity="0.9" transform="rotate(13 493.8 61.0)"/><ellipse cx="500.9" cy="58.4" rx="1.2" ry="1.4" fill="#e8651f" opacity="0.9" transform="rotate(-2 500.9 58.4)"/><ellipse cx="484.2" cy="51.7" rx="1.8" ry="1.3" fill="#ffffff" opacity="0.9" transform="rotate(-26 484.2 51.7)"/><ellipse cx="497.9" cy="61.6" rx="2.5" ry="1.3" fill="#e8651f" opacity="0.9" transform="rotate(-37 497.9 61.6)"/><ellipse cx="502.3" cy="58.0" rx="2.1" ry="0.8" fill="#f09048" opacity="0.9" transform="rotate(35 502.3 58.0)"/><ellipse cx="478.3" cy="49.3" rx="1.9" ry="1.6" fill="#f09048" opacity="0.9" transform="rotate(40 478.3 49.3)"/><ellipse cx="498.3" cy="56.1" rx="2.1" ry="1.8" fill="#f6b880" opacity="0.9" transform="rotate(-11 498.3 56.1)"/><ellipse cx="489.9" cy="52.6" rx="1.7" ry="0.8" fill="#f09048" opacity="0.9" transform="rotate(38 489.9 52.6)"/><ellipse cx="489.1" cy="58.1" rx="1.3" ry="1.5" fill="#8fc0ea" opacity="0.9" transform="rotate(-28 489.1 58.1)"/><ellipse cx="488.2" cy="59.9" rx="1.3" ry="1.3" fill="#8fc0ea" opacity="0.9" transform="rotate(33 488.2 59.9)"/><ellipse cx="493.8" cy="54.9" rx="2.2" ry="0.9" fill="#f6b880" opacity="0.9" transform="rotate(20 493.8 54.9)"/><ellipse cx="480.6" cy="52.6" rx="2.5" ry="1.7" fill="#f6b880" opacity="0.9" transform="rotate(14 480.6 52.6)"/><ellipse cx="505.1" cy="59.9" rx="1.9" ry="1.8" fill="#f09048" opacity="0.9" transform="rotate(-15 505.1 59.9)"/><ellipse cx="483.9" cy="57.6" rx="1.3" ry="1.3" fill="#f09048" opacity="0.9" transform="rotate(-14 483.9 57.6)"/><ellipse cx="503.8" cy="53.0" rx="2.6" ry="1.2" fill="#f09048" opacity="0.9" transform="rotate(-3 503.8 53.0)"/><ellipse cx="503.6" cy="62.8" rx="1.9" ry="1.2" fill="#e8651f" opacity="0.9" transform="rotate(29 503.6 62.8)"/><ellipse cx="488.7" cy="57.8" rx="2.5" ry="1.2" fill="#f09048" opacity="0.9" transform="rotate(31 488.7 57.8)"/><ellipse cx="497.2" cy="60.6" rx="1.1" ry="0.9" fill="#f6b880" opacity="0.9" transform="rotate(-21 497.2 60.6)"/><ellipse cx="483.0" cy="49.5" rx="1.3" ry="1.5" fill="#e8651f" opacity="0.9" transform="rotate(32 483.0 49.5)"/><ellipse cx="483.2" cy="58.3" rx="1.5" ry="1.2" fill="#e8651f" opacity="0.9" transform="rotate(-31 483.2 58.3)"/><ellipse cx="483.4" cy="59.1" rx="1.1" ry="1.2" fill="#f6b880" opacity="0.9" transform="rotate(-39 483.4 59.1)"/></g><g fill="none" stroke="#44546a" stroke-width="0.45" opacity="0.85"><ellipse cx="487.4" cy="53.2" rx="1.5" ry="0.8" transform="rotate(10 487.4 53.2)"/><ellipse cx="509.3" cy="58.0" rx="1.6" ry="0.7" transform="rotate(-27 509.3 58.0)"/><ellipse cx="500.1" cy="51.7" rx="2.0" ry="1.5" transform="rotate(-48 500.1 51.7)"/><ellipse cx="508.8" cy="57.6" rx="1.9" ry="1.4" transform="rotate(-25 508.8 57.6)"/><ellipse cx="498.6" cy="59.1" rx="1.9" ry="0.9" transform="rotate(31 498.6 59.1)"/><ellipse cx="508.5" cy="61.9" rx="1.6" ry="0.7" transform="rotate(-1 508.5 61.9)"/><ellipse cx="487.1" cy="57.2" rx="1.7" ry="1.2" transform="rotate(-38 487.1 57.2)"/><ellipse cx="497.6" cy="58.5" rx="1.1" ry="1.5" transform="rotate(19 497.6 58.5)"/><ellipse cx="481.0" cy="50.1" rx="1.8" ry="1.2" transform="rotate(7 481.0 50.1)"/><ellipse cx="498.3" cy="56.2" rx="1.2" ry="0.8" transform="rotate(-52 498.3 56.2)"/><ellipse cx="499.7" cy="60.8" rx="1.6" ry="1.3" transform="rotate(-17 499.7 60.8)"/><ellipse cx="485.2" cy="51.9" rx="2.0" ry="0.6" transform="rotate(1 485.2 51.9)"/><ellipse cx="483.3" cy="57.0" rx="1.3" ry="0.9" transform="rotate(-12 483.3 57.0)"/><ellipse cx="493.5" cy="59.6" rx="1.3" ry="1.4" transform="rotate(-47 493.5 59.6)"/><ellipse cx="486.3" cy="48.1" rx="1.0" ry="1.4" transform="rotate(27 486.3 48.1)"/><ellipse cx="483.0" cy="48.5" rx="1.4" ry="1.3" transform="rotate(38 483.0 48.5)"/><ellipse cx="501.4" cy="58.9" rx="1.0" ry="1.0" transform="rotate(-37 501.4 58.9)"/><ellipse cx="493.7" cy="56.7" rx="1.1" ry="0.9" transform="rotate(34 493.7 56.7)"/></g><g fill="#7fa8d0" fill-opacity="0.6" stroke="#4a5666" stroke-width="0.45" opacity="0.9"><ellipse cx="325.6" cy="33.4" rx="3.1" ry="1.1" transform="rotate(6 325.6 33.4)"/><ellipse cx="333.5" cy="34.0" rx="3.5" ry="1.1" transform="rotate(6 333.5 34.0)"/><ellipse cx="378.3" cy="39.6" rx="1.6" ry="1.0" transform="rotate(6 378.3 39.6)"/><ellipse cx="390.7" cy="41.4" rx="3.5" ry="0.9" transform="rotate(6 390.7 41.4)"/><ellipse cx="336.1" cy="35.3" rx="4.0" ry="1.3" transform="rotate(6 336.1 35.3)"/><ellipse cx="435.6" cy="46.9" rx="1.7" ry="1.0" transform="rotate(6 435.6 46.9)"/><ellipse cx="377.1" cy="39.6" rx="3.9" ry="1.0" transform="rotate(6 377.1 39.6)"/><ellipse cx="324.0" cy="33.1" rx="1.9" ry="1.4" transform="rotate(6 324.0 33.1)"/><ellipse cx="370.2" cy="38.2" rx="2.4" ry="1.1" transform="rotate(6 370.2 38.2)"/><ellipse cx="329.0" cy="34.6" rx="3.7" ry="0.9" transform="rotate(6 329.0 34.6)"/><ellipse cx="420.9" cy="45.3" rx="3.9" ry="1.4" transform="rotate(6 420.9 45.3)"/><ellipse cx="417.0" cy="43.9" rx="3.0" ry="1.3" transform="rotate(6 417.0 43.9)"/><ellipse cx="319.0" cy="33.1" rx="3.6" ry="0.9" transform="rotate(6 319.0 33.1)"/><ellipse cx="443.1" cy="47.7" rx="2.6" ry="1.0" transform="rotate(6 443.1 47.7)"/><ellipse cx="370.0" cy="38.4" rx="4.0" ry="1.0" transform="rotate(6 370.0 38.4)"/><ellipse cx="304.2" cy="32.5" rx="3.3" ry="1.5" transform="rotate(6 304.2 32.5)"/></g><g filter="url(#b05)"></g><g fill="none" stroke="#44546a" stroke-width="0.45" opacity="0.85"><ellipse cx="450.0" cy="48.5" rx="1.9" ry="1.5" transform="rotate(29 450.0 48.5)"/><ellipse cx="447.1" cy="49.1" rx="1.7" ry="1.5" transform="rotate(-46 447.1 49.1)"/><ellipse cx="447.6" cy="45.7" rx="1.6" ry="1.2" transform="rotate(-58 447.6 45.7)"/><ellipse cx="443.1" cy="45.2" rx="2.1" ry="1.4" transform="rotate(-41 443.1 45.2)"/><ellipse cx="453.5" cy="46.0" rx="1.7" ry="0.7" transform="rotate(-60 453.5 46.0)"/><ellipse cx="454.8" cy="46.5" rx="1.1" ry="1.6" transform="rotate(45 454.8 46.5)"/></g>
<path d="M292.5,32.54 L293.5,32.60 Q377.2,38.6 461.0,52.6 Q377.2,64.3 293.5,72.10 L292.5,72.10 Z" fill="#fff" stroke="#585858" stroke-width="0.6"/>
</g>
<text x="292.10" y="14.70" font-size="8.3" text-anchor="end" fill="#111" stroke="#111" stroke-width="0.12" >25</text>
<text x="292.10" y="55.50" font-size="8.3" text-anchor="end" fill="#111" stroke="#111" stroke-width="0.12" >0</text>
<text x="292.10" y="95.50" font-size="8.3" text-anchor="end" fill="#111" stroke="#111" stroke-width="0.12" >−25</text>
<text x="294.90" y="102.80" font-size="8.3" text-anchor="middle" fill="#111" stroke="#111" stroke-width="0.12" >150</text>
<text x="334.50" y="102.80" font-size="8.3" text-anchor="middle" fill="#111" stroke="#111" stroke-width="0.12" >175</text>
<text x="376.50" y="102.80" font-size="8.3" text-anchor="middle" fill="#111" stroke="#111" stroke-width="0.12" >200</text>
<text x="418.40" y="102.80" font-size="8.3" text-anchor="middle" fill="#111" stroke="#111" stroke-width="0.12" >225</text>
<text x="460.00" y="102.80" font-size="8.3" text-anchor="middle" fill="#111" stroke="#111" stroke-width="0.12" >250</text>
<text x="501.30" y="102.80" font-size="8.3" text-anchor="middle" fill="#111" stroke="#111" stroke-width="0.12" >275</text>
<text x="394.00" y="110.60" font-size="11.2" text-anchor="middle" fill="#111" stroke="#111" stroke-width="0.12"  textLength="32.6" lengthAdjust="spacingAndGlyphs"><tspan font-style="italic">x</tspan> [mm]</text>
<text x="0.00" y="0.00" font-size="11.2" text-anchor="middle" fill="#111" stroke="#111" stroke-width="0.12" transform="translate(275.8,55.2) rotate(-90)" textLength="31.6" lengthAdjust="spacingAndGlyphs"><tspan font-style="italic">y</tspan> [mm]</text>
<g clip-path="url(#cb1)">
<rect x="293.9" y="133.8" width="220.9" height="84.5" fill="#cbe2f2"/>
<path d="M293.9,133.8 L514.8,133.8 L514.8,175.8 L464.0,175.8 Q378.9,162.1 293.9,156.3 Z" fill="#fbe0ca"/>
<ellipse cx="450.0" cy="156.0" rx="50.0" ry="20.0" fill="#f2a878" opacity="0.9" filter="url(#b8)"/>
<ellipse cx="527.0" cy="138.0" rx="18.0" ry="24.0" fill="#fff6ee" opacity="0.8" filter="url(#b8)"/>
<ellipse cx="300.0" cy="138.0" rx="30.0" ry="12.0" fill="#fdf0e4" opacity="0.5" filter="url(#b8)"/>
<ellipse cx="430.0" cy="203.0" rx="52.0" ry="22.0" fill="#86bae8" opacity="0.95" filter="url(#b8)"/>
<ellipse cx="296.0" cy="212.0" rx="30.0" ry="16.0" fill="#e0edf7" opacity="0.7" filter="url(#b8)"/>
<ellipse cx="500.0" cy="214.0" rx="22.0" ry="8.0" fill="#d4e6f4" opacity="0.8" filter="url(#b5)"/>
<ellipse cx="458.0" cy="166.5" rx="17.0" ry="7.5" fill="#e45e24" opacity="0.9" filter="url(#b3)" transform="rotate(8 458.0 166.5)"/>
<ellipse cx="483.5" cy="194.5" rx="12.0" ry="10.5" fill="#3a86d8" opacity="1" filter="url(#b3)"/>
<ellipse cx="509.0" cy="191.0" rx="9.0" ry="6.5" fill="#3a86d8" opacity="1" filter="url(#b3)"/>
<ellipse cx="438.7" cy="190.0" rx="5.5" ry="7.0" fill="#f4ae7c" opacity="0.95" filter="url(#b2)"/>
<ellipse cx="467.8" cy="192.0" rx="8.5" ry="13.0" fill="#ee7a38" opacity="1" filter="url(#b3)"/>
<ellipse cx="479.6" cy="165.2" rx="9.0" ry="8.6" fill="#f6f9fc" opacity="1" filter="url(#b2)"/>
<ellipse cx="477.0" cy="172.0" rx="7.0" ry="4.0" fill="#a8cdee" opacity="0.8" filter="url(#b2)"/>
<ellipse cx="466.2" cy="184.0" rx="6.5" ry="8.0" fill="#d43c18" opacity="1" filter="url(#b2)"/>
<ellipse cx="465.4" cy="179.6" rx="7.2" ry="6.6" fill="#b01212" opacity="1" filter="url(#b1)"/>
<ellipse cx="451.3" cy="184.6" rx="8.0" ry="5.8" fill="#0a3c9c" opacity="1" filter="url(#b1)"/>
<ellipse cx="425.0" cy="185.8" rx="5.8" ry="3.3" fill="#1458ba" opacity="1" filter="url(#b1)"/>
<ellipse cx="438.7" cy="184.2" rx="3.8" ry="3.2" fill="#e8651f" opacity="1" filter="url(#b1)"/>
<ellipse cx="477.5" cy="177.8" rx="5.0" ry="4.8" fill="#0f4cac" opacity="1" filter="url(#b1)"/>
<ellipse cx="491.4" cy="184.8" rx="7.6" ry="7.6" fill="#0a3c9c" opacity="1" filter="url(#b1)"/>
<ellipse cx="506.0" cy="177.8" rx="11.5" ry="5.2" fill="#e86a28" opacity="1" filter="url(#b1)" transform="rotate(34 506.0 177.8)"/>
<ellipse cx="301.0" cy="155.2" rx="6.0" ry="1.8" fill="#e8852a" opacity="0.95" filter="url(#b1)" transform="rotate(4 301.0 155.2)"/>
<ellipse cx="310.0" cy="151.6" rx="3.0" ry="3.0" fill="#f4f8fc" opacity="0.9" filter="url(#b1)"/>
<ellipse cx="354.0" cy="159.4" rx="8.0" ry="3.6" fill="#f0a060" opacity="0.9" filter="url(#b2)" transform="rotate(6 354.0 159.4)"/>
<ellipse cx="369.0" cy="161.8" rx="3.0" ry="2.4" fill="#f4f8fc" opacity="0.9" filter="url(#b1)"/>
<ellipse cx="389.2" cy="164.2" rx="3.0" ry="2.4" fill="#f4f8fc" opacity="0.9" filter="url(#b1)"/>
<ellipse cx="397.0" cy="166.0" rx="4.0" ry="2.0" fill="#f0a060" opacity="0.8" filter="url(#b1)"/>
<g stroke="#d8322a" stroke-width="0.9" fill="none"><line x1="424" y1="204.6" x2="428.6" y2="188.6" marker-end="url(#arR)"/><line x1="424" y1="204.6" x2="446.6" y2="188.4" marker-end="url(#arR)"/></g><g fill="#b8c4d0" fill-opacity="0.6" stroke="#4a5666" stroke-width="0.45" opacity="0.9"><ellipse cx="324.8" cy="157.2" rx="2.0" ry="1.4" transform="rotate(6 324.8 157.2)"/><ellipse cx="323.6" cy="157.0" rx="3.8" ry="1.0" transform="rotate(6 323.6 157.0)"/><ellipse cx="398.7" cy="164.6" rx="2.9" ry="1.2" transform="rotate(6 398.7 164.6)"/><ellipse cx="359.8" cy="160.6" rx="4.0" ry="1.0" transform="rotate(6 359.8 160.6)"/><ellipse cx="400.4" cy="164.6" rx="1.7" ry="0.9" transform="rotate(6 400.4 164.6)"/><ellipse cx="348.7" cy="158.9" rx="2.0" ry="1.2" transform="rotate(6 348.7 158.9)"/><ellipse cx="337.5" cy="157.9" rx="3.8" ry="1.3" transform="rotate(6 337.5 157.9)"/><ellipse cx="319.7" cy="156.4" rx="2.7" ry="1.4" transform="rotate(6 319.7 156.4)"/></g><g filter="url(#b05)"></g><g fill="none" stroke="#44546a" stroke-width="0.45" opacity="0.85"><ellipse cx="439.9" cy="167.6" rx="2.1" ry="1.0" transform="rotate(50 439.9 167.6)"/><ellipse cx="426.4" cy="164.4" rx="1.3" ry="1.2" transform="rotate(-56 426.4 164.4)"/><ellipse cx="418.4" cy="163.9" rx="1.9" ry="1.0" transform="rotate(43 418.4 163.9)"/><ellipse cx="449.5" cy="169.3" rx="1.7" ry="1.5" transform="rotate(5 449.5 169.3)"/><ellipse cx="414.4" cy="164.7" rx="1.5" ry="0.8" transform="rotate(-49 414.4 164.7)"/><ellipse cx="416.1" cy="165.8" rx="1.9" ry="1.3" transform="rotate(-9 416.1 165.8)"/><ellipse cx="436.7" cy="167.5" rx="1.4" ry="0.8" transform="rotate(-45 436.7 167.5)"/><ellipse cx="416.3" cy="162.9" rx="1.6" ry="0.9" transform="rotate(7 416.3 162.9)"/><ellipse cx="426.9" cy="166.4" rx="1.8" ry="1.4" transform="rotate(-42 426.9 166.4)"/><ellipse cx="444.0" cy="168.0" rx="2.1" ry="1.4" transform="rotate(-31 444.0 168.0)"/><ellipse cx="437.9" cy="169.3" rx="1.9" ry="1.5" transform="rotate(3 437.9 169.3)"/><ellipse cx="437.7" cy="165.2" rx="1.7" ry="0.7" transform="rotate(27 437.7 165.2)"/><ellipse cx="447.7" cy="168.0" rx="0.9" ry="0.6" transform="rotate(2 447.7 168.0)"/><ellipse cx="414.8" cy="165.9" rx="1.7" ry="1.1" transform="rotate(21 414.8 165.9)"/><ellipse cx="414.8" cy="164.4" rx="0.9" ry="1.1" transform="rotate(35 414.8 164.4)"/><ellipse cx="414.8" cy="165.6" rx="2.2" ry="0.9" transform="rotate(-35 414.8 165.6)"/></g><g filter="url(#b05)"></g><g fill="none" stroke="#44546a" stroke-width="0.45" opacity="0.85"><ellipse cx="474.1" cy="177.1" rx="1.4" ry="1.3" transform="rotate(52 474.1 177.1)"/><ellipse cx="472.4" cy="175.9" rx="1.8" ry="1.5" transform="rotate(-56 472.4 175.9)"/><ellipse cx="476.4" cy="172.1" rx="1.8" ry="0.8" transform="rotate(-17 476.4 172.1)"/><ellipse cx="470.9" cy="171.8" rx="1.0" ry="1.1" transform="rotate(18 470.9 171.8)"/><ellipse cx="468.7" cy="175.3" rx="2.2" ry="0.7" transform="rotate(-27 468.7 175.3)"/><ellipse cx="464.6" cy="175.4" rx="1.4" ry="1.0" transform="rotate(-30 464.6 175.4)"/><ellipse cx="477.0" cy="176.1" rx="1.4" ry="1.4" transform="rotate(-32 477.0 176.1)"/><ellipse cx="469.2" cy="177.7" rx="1.1" ry="0.7" transform="rotate(-56 469.2 177.7)"/></g><g filter="url(#b05)"></g><g fill="none" stroke="#44546a" stroke-width="0.45" opacity="0.85"><ellipse cx="505.9" cy="173.7" rx="2.1" ry="1.0" transform="rotate(-6 505.9 173.7)"/><ellipse cx="506.2" cy="171.9" rx="2.1" ry="1.5" transform="rotate(27 506.2 171.9)"/><ellipse cx="505.8" cy="175.8" rx="1.6" ry="1.1" transform="rotate(52 505.8 175.8)"/><ellipse cx="501.4" cy="167.6" rx="2.2" ry="0.9" transform="rotate(-27 501.4 167.6)"/><ellipse cx="504.0" cy="181.2" rx="1.3" ry="0.6" transform="rotate(-28 504.0 181.2)"/><ellipse cx="511.3" cy="178.2" rx="1.0" ry="0.8" transform="rotate(58 511.3 178.2)"/><ellipse cx="508.2" cy="173.0" rx="1.6" ry="1.6" transform="rotate(-31 508.2 173.0)"/><ellipse cx="504.8" cy="169.2" rx="1.3" ry="1.0" transform="rotate(-9 504.8 169.2)"/><ellipse cx="511.3" cy="171.6" rx="0.8" ry="1.4" transform="rotate(51 511.3 171.6)"/><ellipse cx="510.5" cy="170.3" rx="1.3" ry="1.4" transform="rotate(-50 510.5 170.3)"/><ellipse cx="497.9" cy="174.1" rx="1.1" ry="1.1" transform="rotate(-41 497.9 174.1)"/><ellipse cx="512.4" cy="173.9" rx="1.3" ry="0.9" transform="rotate(-27 512.4 173.9)"/></g>
<path d="M292.9,156.24 L293.9,156.30 Q378.9,162.1 464.0,175.8 Q378.9,187.8 293.9,195.80 L292.9,195.80 Z" fill="#fff" stroke="#585858" stroke-width="0.6"/>
</g>
<text x="292.50" y="138.46" font-size="8.3" text-anchor="end" fill="#111" stroke="#111" stroke-width="0.12" >25</text>
<text x="292.50" y="179.74" font-size="8.3" text-anchor="end" fill="#111" stroke="#111" stroke-width="0.12" >0</text>
<text x="292.50" y="220.22" font-size="8.3" text-anchor="end" fill="#111" stroke="#111" stroke-width="0.12" >−25</text>
<text x="295.90" y="227.50" font-size="8.3" text-anchor="middle" fill="#111" stroke="#111" stroke-width="0.12" >150</text>
<text x="335.30" y="227.50" font-size="8.3" text-anchor="middle" fill="#111" stroke="#111" stroke-width="0.12" >175</text>
<text x="377.90" y="227.50" font-size="8.3" text-anchor="middle" fill="#111" stroke="#111" stroke-width="0.12" >200</text>
<text x="420.20" y="227.50" font-size="8.3" text-anchor="middle" fill="#111" stroke="#111" stroke-width="0.12" >225</text>
<text x="461.40" y="227.50" font-size="8.3" text-anchor="middle" fill="#111" stroke="#111" stroke-width="0.12" >250</text>
<text x="503.50" y="227.50" font-size="8.3" text-anchor="middle" fill="#111" stroke="#111" stroke-width="0.12" >275</text>
<text x="395.90" y="235.30" font-size="11.2" text-anchor="middle" fill="#111" stroke="#111" stroke-width="0.12"  textLength="32.6" lengthAdjust="spacingAndGlyphs"><tspan font-style="italic">x</tspan> [mm]</text>
<text x="0.00" y="0.00" font-size="11.2" text-anchor="middle" fill="#111" stroke="#111" stroke-width="0.12" transform="translate(275.8,179.5) rotate(-90)" textLength="31.6" lengthAdjust="spacingAndGlyphs"><tspan font-style="italic">y</tspan> [mm]</text>
<text x="416.20" y="212.20" font-size="9.6" text-anchor="middle" fill="#d8322a" stroke="#d8322a" stroke-width="0.12" >ASV</text>
<g clip-path="url(#cb2)">
<rect x="293.0" y="259.2" width="218.8" height="83.2" fill="#f6f7f8"/>
<path d="M293.0,259.2 L511.8,259.2 L511.8,301.0 L460.2,301.0 Q376.6,287.4 293.0,281.7 Z" fill="#f5f8fb"/>
<ellipse cx="310.0" cy="330.0" rx="30.0" ry="14.0" fill="#e2edf6" opacity="0.9" filter="url(#b8)"/>
<ellipse cx="400.0" cy="325.0" rx="30.0" ry="14.0" fill="#fbeee2" opacity="0.9" filter="url(#b8)"/>
<ellipse cx="473.0" cy="277.0" rx="15.0" ry="12.0" fill="#cfe3f4" opacity="0.95" filter="url(#b5)"/>
<ellipse cx="478.0" cy="324.0" rx="16.0" ry="10.0" fill="#d6e7f5" opacity="0.95" filter="url(#b5)"/>
<ellipse cx="506.0" cy="284.0" rx="8.0" ry="11.0" fill="#d2e5f5" opacity="0.9" filter="url(#b5)"/>
<ellipse cx="440.0" cy="275.0" rx="18.0" ry="9.0" fill="#fbfcfd" opacity="0.8" filter="url(#b5)"/>
<ellipse cx="425.0" cy="314.0" rx="18.0" ry="8.0" fill="#fbe8da" opacity="0.9" filter="url(#b5)"/>
<ellipse cx="446.0" cy="296.2" rx="15.0" ry="4.4" fill="#ee8a4e" opacity="0.95" filter="url(#b2)" transform="rotate(8 446.0 296.2)"/>
<ellipse cx="430.0" cy="291.0" rx="12.0" ry="4.0" fill="#f6c4a0" opacity="0.8" filter="url(#b3)" transform="rotate(7 430.0 291.0)"/>
<ellipse cx="453.4" cy="313.0" rx="8.0" ry="9.0" fill="#9cc6ec" opacity="0.95" filter="url(#b3)"/>
<ellipse cx="465.0" cy="311.0" rx="6.5" ry="7.5" fill="#f09868" opacity="0.95" filter="url(#b3)"/>
<ellipse cx="507.0" cy="315.0" rx="9.0" ry="4.5" fill="#f2a878" opacity="0.95" filter="url(#b3)"/>
<ellipse cx="471.0" cy="291.0" rx="7.0" ry="6.0" fill="#bcd9f2" opacity="0.9" filter="url(#b3)"/>
<ellipse cx="453.6" cy="308.2" rx="5.8" ry="5.8" fill="#2a78d2" opacity="1" filter="url(#b2)"/>
<ellipse cx="464.6" cy="306.6" rx="4.6" ry="6.4" fill="#d4441a" opacity="1" filter="url(#b1)" transform="rotate(-25 464.6 306.6)"/>
<ellipse cx="474.0" cy="305.0" rx="7.0" ry="3.0" fill="#ea7a3a" opacity="0.9" filter="url(#b2)" transform="rotate(10 474.0 305.0)"/>
<ellipse cx="471.2" cy="302.0" rx="3.2" ry="2.6" fill="#1458ba" opacity="1" filter="url(#b1)"/>
<ellipse cx="497.0" cy="304.2" rx="15.0" ry="4.6" fill="#e4682a" opacity="0.95" filter="url(#b2)" transform="rotate(8 497.0 304.2)"/>
<ellipse cx="298.7" cy="274.0" rx="5.0" ry="9.0" fill="#fbe2cc" opacity="0.9" filter="url(#b3)"/>
<ellipse cx="302.5" cy="280.6" rx="5.0" ry="1.8" fill="#ee9030" opacity="1" filter="url(#b05)" transform="rotate(4 302.5 280.6)"/>
<ellipse cx="330.0" cy="269.0" rx="8.0" ry="10.0" fill="#d8e8f5" opacity="0.9" filter="url(#b3)"/>
<ellipse cx="346.4" cy="277.0" rx="6.0" ry="5.0" fill="#fbe6d4" opacity="0.9" filter="url(#b3)"/>
<ellipse cx="365.3" cy="275.5" rx="8.0" ry="8.0" fill="#dceaf6" opacity="0.9" filter="url(#b3)"/>
<ellipse cx="376.6" cy="285.4" rx="3.0" ry="2.0" fill="#f0a060" opacity="0.9" filter="url(#b1)"/>
<g filter="url(#b05)"><ellipse cx="489.6" cy="305.0" rx="1.8" ry="1.4" fill="#f09048" opacity="0.9" transform="rotate(12 489.6 305.0)"/><ellipse cx="501.4" cy="308.7" rx="1.7" ry="0.8" fill="#e8651f" opacity="0.9" transform="rotate(3 501.4 308.7)"/><ellipse cx="488.8" cy="300.6" rx="1.5" ry="1.4" fill="#e8651f" opacity="0.9" transform="rotate(39 488.8 300.6)"/><ellipse cx="505.1" cy="309.5" rx="1.2" ry="1.0" fill="#ffffff" opacity="0.9" transform="rotate(36 505.1 309.5)"/><ellipse cx="506.1" cy="302.6" rx="2.0" ry="1.1" fill="#ffffff" opacity="0.9" transform="rotate(14 506.1 302.6)"/><ellipse cx="508.3" cy="307.1" rx="1.8" ry="0.9" fill="#f6b880" opacity="0.9" transform="rotate(15 508.3 307.1)"/><ellipse cx="498.2" cy="306.9" rx="1.1" ry="1.2" fill="#3a86d6" opacity="0.9" transform="rotate(3 498.2 306.9)"/><ellipse cx="491.4" cy="299.6" rx="1.4" ry="1.0" fill="#f6b880" opacity="0.9" transform="rotate(8 491.4 299.6)"/><ellipse cx="494.5" cy="299.5" rx="1.5" ry="0.8" fill="#f09048" opacity="0.9" transform="rotate(31 494.5 299.5)"/><ellipse cx="503.6" cy="300.8" rx="1.5" ry="1.2" fill="#3a86d6" opacity="0.9" transform="rotate(-9 503.6 300.8)"/><ellipse cx="502.8" cy="309.6" rx="1.0" ry="0.8" fill="#3a86d6" opacity="0.9" transform="rotate(11 502.8 309.6)"/><ellipse cx="487.0" cy="301.6" rx="2.0" ry="1.4" fill="#ffffff" opacity="0.9" transform="rotate(-24 487.0 301.6)"/><ellipse cx="507.7" cy="304.1" rx="1.8" ry="0.8" fill="#f09048" opacity="0.9" transform="rotate(18 507.7 304.1)"/><ellipse cx="488.3" cy="304.1" rx="1.7" ry="1.2" fill="#ffffff" opacity="0.9" transform="rotate(7 488.3 304.1)"/><ellipse cx="499.6" cy="300.8" rx="1.2" ry="1.3" fill="#f09048" opacity="0.9" transform="rotate(32 499.6 300.8)"/><ellipse cx="487.2" cy="301.8" rx="1.7" ry="1.4" fill="#e8651f" opacity="0.9" transform="rotate(38 487.2 301.8)"/><ellipse cx="506.4" cy="306.9" rx="1.6" ry="0.7" fill="#f6b880" opacity="0.9" transform="rotate(-30 506.4 306.9)"/><ellipse cx="491.5" cy="300.7" rx="1.7" ry="0.7" fill="#8fc0ea" opacity="0.9" transform="rotate(2 491.5 300.7)"/><ellipse cx="492.2" cy="299.5" rx="1.6" ry="1.1" fill="#8fc0ea" opacity="0.9" transform="rotate(-22 492.2 299.5)"/><ellipse cx="487.8" cy="306.0" rx="1.4" ry="1.3" fill="#f09048" opacity="0.9" transform="rotate(19 487.8 306.0)"/><ellipse cx="489.5" cy="305.0" rx="2.0" ry="0.9" fill="#f09048" opacity="0.9" transform="rotate(-12 489.5 305.0)"/><ellipse cx="489.7" cy="300.6" rx="1.2" ry="0.9" fill="#e8651f" opacity="0.9" transform="rotate(-15 489.7 300.6)"/><ellipse cx="496.5" cy="299.1" rx="1.0" ry="1.5" fill="#f6b880" opacity="0.9" transform="rotate(-25 496.5 299.1)"/><ellipse cx="496.3" cy="304.5" rx="1.3" ry="0.9" fill="#ffffff" opacity="0.9" transform="rotate(36 496.3 304.5)"/><ellipse cx="493.6" cy="299.7" rx="1.3" ry="1.2" fill="#f6b880" opacity="0.9" transform="rotate(-37 493.6 299.7)"/><ellipse cx="486.2" cy="300.9" rx="1.5" ry="1.4" fill="#ffffff" opacity="0.9" transform="rotate(-37 486.2 300.9)"/><ellipse cx="498.6" cy="300.1" rx="1.9" ry="0.9" fill="#f09048" opacity="0.9" transform="rotate(32 498.6 300.1)"/><ellipse cx="503.0" cy="300.3" rx="2.1" ry="0.7" fill="#f6b880" opacity="0.9" transform="rotate(24 503.0 300.3)"/><ellipse cx="488.2" cy="305.2" rx="1.8" ry="1.5" fill="#3a86d6" opacity="0.9" transform="rotate(-24 488.2 305.2)"/><ellipse cx="494.5" cy="298.7" rx="1.6" ry="0.7" fill="#f09048" opacity="0.9" transform="rotate(35 494.5 298.7)"/><ellipse cx="504.9" cy="303.7" rx="1.4" ry="0.8" fill="#f6b880" opacity="0.9" transform="rotate(-19 504.9 303.7)"/><ellipse cx="492.6" cy="308.2" rx="1.1" ry="0.6" fill="#f6b880" opacity="0.9" transform="rotate(29 492.6 308.2)"/><ellipse cx="494.6" cy="305.0" rx="2.0" ry="1.3" fill="#f6b880" opacity="0.9" transform="rotate(33 494.6 305.0)"/><ellipse cx="494.4" cy="302.4" rx="1.4" ry="0.8" fill="#f09048" opacity="0.9" transform="rotate(-4 494.4 302.4)"/><ellipse cx="490.1" cy="301.2" rx="2.1" ry="0.9" fill="#ffffff" opacity="0.9" transform="rotate(-7 490.1 301.2)"/><ellipse cx="496.9" cy="301.3" rx="1.5" ry="1.5" fill="#3a86d6" opacity="0.9" transform="rotate(-24 496.9 301.3)"/><ellipse cx="493.3" cy="303.2" rx="1.1" ry="1.2" fill="#e8651f" opacity="0.9" transform="rotate(-1 493.3 303.2)"/><ellipse cx="497.6" cy="299.9" rx="0.9" ry="0.8" fill="#e8651f" opacity="0.9" transform="rotate(31 497.6 299.9)"/><ellipse cx="496.9" cy="304.2" rx="2.0" ry="0.8" fill="#ffffff" opacity="0.9" transform="rotate(-38 496.9 304.2)"/><ellipse cx="497.5" cy="307.1" rx="1.8" ry="0.9" fill="#f09048" opacity="0.9" transform="rotate(12 497.5 307.1)"/><ellipse cx="504.0" cy="304.2" rx="1.9" ry="0.8" fill="#e8651f" opacity="0.9" transform="rotate(9 504.0 304.2)"/><ellipse cx="489.3" cy="303.3" rx="0.9" ry="1.0" fill="#f6b880" opacity="0.9" transform="rotate(12 489.3 303.3)"/><ellipse cx="500.2" cy="304.7" rx="2.2" ry="0.8" fill="#e8651f" opacity="0.9" transform="rotate(-32 500.2 304.7)"/><ellipse cx="505.9" cy="308.9" rx="1.8" ry="1.3" fill="#f6b880" opacity="0.9" transform="rotate(7 505.9 308.9)"/></g><g fill="none" stroke="#44546a" stroke-width="0.45" opacity="0.85"><ellipse cx="490.3" cy="299.0" rx="1.8" ry="1.2" transform="rotate(-53 490.3 299.0)"/><ellipse cx="501.0" cy="305.8" rx="1.5" ry="1.4" transform="rotate(45 501.0 305.8)"/><ellipse cx="493.0" cy="306.9" rx="1.5" ry="1.2" transform="rotate(-10 493.0 306.9)"/><ellipse cx="509.9" cy="305.2" rx="2.1" ry="0.9" transform="rotate(21 509.9 305.2)"/><ellipse cx="509.0" cy="307.7" rx="1.3" ry="0.7" transform="rotate(-3 509.0 307.7)"/><ellipse cx="494.0" cy="307.1" rx="1.9" ry="1.6" transform="rotate(-6 494.0 307.1)"/><ellipse cx="494.2" cy="304.3" rx="1.8" ry="0.7" transform="rotate(-34 494.2 304.3)"/><ellipse cx="486.7" cy="300.6" rx="1.2" ry="1.6" transform="rotate(-35 486.7 300.6)"/><ellipse cx="510.2" cy="303.6" rx="1.1" ry="1.6" transform="rotate(-49 510.2 303.6)"/><ellipse cx="484.3" cy="301.0" rx="1.1" ry="0.8" transform="rotate(-58 484.3 301.0)"/><ellipse cx="503.6" cy="299.9" rx="1.1" ry="1.2" transform="rotate(46 503.6 299.9)"/><ellipse cx="501.4" cy="306.9" rx="1.8" ry="1.4" transform="rotate(42 501.4 306.9)"/><ellipse cx="500.6" cy="304.7" rx="1.5" ry="1.4" transform="rotate(-39 500.6 304.7)"/><ellipse cx="503.2" cy="304.1" rx="1.4" ry="0.8" transform="rotate(-26 503.2 304.1)"/></g><g filter="url(#b05)"><ellipse cx="467.3" cy="300.6" rx="1.9" ry="1.6" fill="#ffffff" opacity="0.9" transform="rotate(19 467.3 300.6)"/><ellipse cx="469.5" cy="295.6" rx="1.6" ry="1.1" fill="#8fc0ea" opacity="0.9" transform="rotate(-8 469.5 295.6)"/><ellipse cx="476.9" cy="297.1" rx="2.2" ry="1.0" fill="#ffffff" opacity="0.9" transform="rotate(-11 476.9 297.1)"/><ellipse cx="473.6" cy="299.1" rx="1.1" ry="1.3" fill="#ffffff" opacity="0.9" transform="rotate(-27 473.6 299.1)"/><ellipse cx="473.8" cy="296.0" rx="1.4" ry="0.7" fill="#3a86d6" opacity="0.9" transform="rotate(28 473.8 296.0)"/><ellipse cx="470.6" cy="299.7" rx="2.3" ry="1.6" fill="#1458ba" opacity="0.9" transform="rotate(30 470.6 299.7)"/><ellipse cx="474.2" cy="295.9" rx="1.8" ry="1.3" fill="#3a86d6" opacity="0.9" transform="rotate(29 474.2 295.9)"/><ellipse cx="475.0" cy="298.9" rx="1.9" ry="0.9" fill="#e8651f" opacity="0.9" transform="rotate(-23 475.0 298.9)"/><ellipse cx="475.6" cy="299.0" rx="1.1" ry="1.5" fill="#1458ba" opacity="0.9" transform="rotate(-18 475.6 299.0)"/><ellipse cx="470.9" cy="300.5" rx="1.8" ry="1.1" fill="#3a86d6" opacity="0.9" transform="rotate(3 470.9 300.5)"/><ellipse cx="471.5" cy="298.9" rx="1.6" ry="1.3" fill="#1458ba" opacity="0.9" transform="rotate(-19 471.5 298.9)"/><ellipse cx="470.7" cy="298.6" rx="1.8" ry="1.1" fill="#e8651f" opacity="0.9" transform="rotate(-29 470.7 298.6)"/><ellipse cx="474.4" cy="299.6" rx="0.9" ry="1.4" fill="#8fc0ea" opacity="0.9" transform="rotate(-38 474.4 299.6)"/><ellipse cx="474.5" cy="297.9" rx="1.6" ry="1.0" fill="#e8651f" opacity="0.9" transform="rotate(-25 474.5 297.9)"/></g><g fill="none" stroke="#44546a" stroke-width="0.45" opacity="0.85"><ellipse cx="473.5" cy="298.8" rx="1.2" ry="1.0" transform="rotate(-56 473.5 298.8)"/><ellipse cx="473.0" cy="297.3" rx="2.1" ry="1.0" transform="rotate(-30 473.0 297.3)"/><ellipse cx="468.4" cy="296.8" rx="2.0" ry="0.9" transform="rotate(-30 468.4 296.8)"/><ellipse cx="473.2" cy="302.3" rx="1.2" ry="1.4" transform="rotate(-16 473.2 302.3)"/><ellipse cx="472.7" cy="299.8" rx="2.1" ry="1.4" transform="rotate(1 472.7 299.8)"/><ellipse cx="476.1" cy="297.9" rx="1.3" ry="1.6" transform="rotate(6 476.1 297.9)"/></g><g fill="#7fa8d0" fill-opacity="0.6" stroke="#4a5666" stroke-width="0.45" opacity="0.9"><ellipse cx="323.6" cy="283.1" rx="2.5" ry="1.2" transform="rotate(6 323.6 283.1)"/><ellipse cx="340.6" cy="284.6" rx="2.2" ry="1.3" transform="rotate(6 340.6 284.6)"/><ellipse cx="341.8" cy="283.8" rx="3.2" ry="0.8" transform="rotate(6 341.8 283.8)"/><ellipse cx="393.8" cy="290.0" rx="2.6" ry="1.5" transform="rotate(6 393.8 290.0)"/><ellipse cx="334.5" cy="284.2" rx="3.9" ry="1.0" transform="rotate(6 334.5 284.2)"/><ellipse cx="348.6" cy="285.1" rx="2.5" ry="1.5" transform="rotate(6 348.6 285.1)"/><ellipse cx="350.2" cy="285.4" rx="3.0" ry="1.1" transform="rotate(6 350.2 285.4)"/><ellipse cx="449.8" cy="297.4" rx="2.5" ry="0.9" transform="rotate(6 449.8 297.4)"/><ellipse cx="434.1" cy="294.7" rx="1.7" ry="1.3" transform="rotate(6 434.1 294.7)"/><ellipse cx="438.4" cy="295.9" rx="2.1" ry="1.3" transform="rotate(6 438.4 295.9)"/><ellipse cx="419.8" cy="293.8" rx="3.1" ry="0.9" transform="rotate(6 419.8 293.8)"/><ellipse cx="327.5" cy="283.1" rx="2.4" ry="1.0" transform="rotate(6 327.5 283.1)"/><ellipse cx="408.7" cy="291.4" rx="3.9" ry="1.5" transform="rotate(6 408.7 291.4)"/><ellipse cx="455.1" cy="298.3" rx="2.3" ry="0.8" transform="rotate(6 455.1 298.3)"/><ellipse cx="405.6" cy="291.4" rx="3.2" ry="0.8" transform="rotate(6 405.6 291.4)"/><ellipse cx="347.8" cy="284.2" rx="3.0" ry="1.3" transform="rotate(6 347.8 284.2)"/><ellipse cx="334.8" cy="283.7" rx="3.8" ry="1.2" transform="rotate(6 334.8 283.7)"/><ellipse cx="454.9" cy="299.1" rx="2.7" ry="1.3" transform="rotate(6 454.9 299.1)"/></g>
<path d="M292.0,281.64 L293.0,281.70 Q376.6,287.4 460.2,301.0 Q376.6,313.1 293.0,321.20 L292.0,321.20 Z" fill="#fff" stroke="#585858" stroke-width="0.6"/>
</g>
<text x="291.60" y="263.78" font-size="8.3" text-anchor="end" fill="#111" stroke="#111" stroke-width="0.12" >25</text>
<text x="291.60" y="304.44" font-size="8.3" text-anchor="end" fill="#111" stroke="#111" stroke-width="0.12" >0</text>
<text x="291.60" y="344.29" font-size="8.3" text-anchor="end" fill="#111" stroke="#111" stroke-width="0.12" >−25</text>
<text x="294.30" y="351.60" font-size="8.3" text-anchor="middle" fill="#111" stroke="#111" stroke-width="0.12" >150</text>
<text x="334.00" y="351.60" font-size="8.3" text-anchor="middle" fill="#111" stroke="#111" stroke-width="0.12" >175</text>
<text x="376.10" y="351.60" font-size="8.3" text-anchor="middle" fill="#111" stroke="#111" stroke-width="0.12" >200</text>
<text x="417.50" y="351.60" font-size="8.3" text-anchor="middle" fill="#111" stroke="#111" stroke-width="0.12" >225</text>
<text x="458.60" y="351.60" font-size="8.3" text-anchor="middle" fill="#111" stroke="#111" stroke-width="0.12" >250</text>
<text x="500.20" y="351.60" font-size="8.3" text-anchor="middle" fill="#111" stroke="#111" stroke-width="0.12" >275</text>
<text x="394.10" y="359.40" font-size="11.2" text-anchor="middle" fill="#111" stroke="#111" stroke-width="0.12"  textLength="32.6" lengthAdjust="spacingAndGlyphs"><tspan font-style="italic">x</tspan> [mm]</text>
<text x="0.00" y="0.00" font-size="11.2" text-anchor="middle" fill="#111" stroke="#111" stroke-width="0.12" transform="translate(275.8,304.2) rotate(-90)" textLength="31.6" lengthAdjust="spacingAndGlyphs"><tspan font-style="italic">y</tspan> [mm]</text>
<g clip-path="url(#cb3)">
<rect x="292.3" y="383.3" width="222.5" height="84.1" fill="#edf3f9"/>
<path d="M292.3,383.3 L514.8,383.3 L514.8,426.0 L462.4,426.0 Q377.4,411.9 292.3,405.8 Z" fill="#f3f6f9"/>
<ellipse cx="420.0" cy="396.0" rx="48.0" ry="15.0" fill="#fbece0" opacity="1" filter="url(#b8)"/>
<ellipse cx="440.0" cy="392.0" rx="28.0" ry="10.0" fill="#fbeadc" opacity="0.9" filter="url(#b5)"/>
<ellipse cx="305.0" cy="392.0" rx="16.0" ry="10.0" fill="#e0ecf7" opacity="0.95" filter="url(#b5)"/>
<ellipse cx="335.0" cy="390.0" rx="14.0" ry="8.0" fill="#e6eff8" opacity="0.9" filter="url(#b5)"/>
<ellipse cx="500.0" cy="405.0" rx="22.0" ry="14.0" fill="#e2edf7" opacity="0.9" filter="url(#b8)"/>
<ellipse cx="495.0" cy="392.0" rx="20.0" ry="8.0" fill="#f8fafc" opacity="0.8" filter="url(#b5)"/>
<ellipse cx="400.0" cy="455.0" rx="75.0" ry="16.0" fill="#d6e7f5" opacity="0.95" filter="url(#b8)"/>
<ellipse cx="310.0" cy="450.0" rx="20.0" ry="14.0" fill="#f4f6f9" opacity="0.8" filter="url(#b8)"/>
<ellipse cx="452.3" cy="438.0" rx="14.0" ry="9.0" fill="#b4d4ee" opacity="0.95" filter="url(#b5)"/>
<ellipse cx="490.0" cy="452.0" rx="16.0" ry="8.0" fill="#e4eef7" opacity="0.9" filter="url(#b5)"/>
<ellipse cx="467.0" cy="441.0" rx="7.5" ry="8.0" fill="#f4b088" opacity="0.95" filter="url(#b3)"/>
<ellipse cx="443.0" cy="421.0" rx="6.0" ry="3.4" fill="#f6c4a0" opacity="0.9" filter="url(#b2)" transform="rotate(8 443.0 421.0)"/>
<ellipse cx="432.0" cy="416.0" rx="4.0" ry="3.0" fill="#b4d4ee" opacity="0.9" filter="url(#b2)"/>
<ellipse cx="301.2" cy="401.6" rx="4.6" ry="6.5" fill="#f0a060" opacity="0.95" filter="url(#b2)"/>
<ellipse cx="296.0" cy="400.0" rx="3.0" ry="5.0" fill="#5a9fe0" opacity="0.8" filter="url(#b2)"/>
<ellipse cx="312.5" cy="402.4" rx="4.0" ry="5.0" fill="#a8cdee" opacity="0.9" filter="url(#b2)"/>
<ellipse cx="355.2" cy="405.4" rx="6.5" ry="7.5" fill="#f6b888" opacity="0.9" filter="url(#b3)"/>
<ellipse cx="370.3" cy="408.0" rx="4.0" ry="6.0" fill="#7ab4e4" opacity="0.9" filter="url(#b2)"/>
<ellipse cx="465.4" cy="432.8" rx="5.4" ry="5.2" fill="#d4441a" opacity="1" filter="url(#b1)"/>
<ellipse cx="468.2" cy="426.0" rx="4.0" ry="3.8" fill="#1458ba" opacity="1" filter="url(#b1)"/>
<ellipse cx="474.6" cy="431.6" rx="4.2" ry="4.2" fill="#1560c0" opacity="1" filter="url(#b1)"/>
<ellipse cx="482.8" cy="423.0" rx="3.0" ry="2.6" fill="#2a74cc" opacity="1" filter="url(#b1)"/>
<ellipse cx="477.5" cy="419.6" rx="3.2" ry="2.8" fill="#f0a060" opacity="0.9" filter="url(#b1)"/>
<ellipse cx="498.0" cy="429.5" rx="16.0" ry="4.4" fill="#ee8a4a" opacity="0.9" filter="url(#b2)" transform="rotate(13 498.0 429.5)"/>
<ellipse cx="499.6" cy="432.6" rx="2.6" ry="2.6" fill="#2a74cc" opacity="0.9" filter="url(#b1)"/>
<ellipse cx="512.0" cy="432.0" rx="2.6" ry="2.6" fill="#2a74cc" opacity="0.9" filter="url(#b1)"/>
<ellipse cx="507.0" cy="438.8" rx="6.0" ry="2.6" fill="#ee8a44" opacity="0.9" filter="url(#b1)"/>
<ellipse cx="451.0" cy="432.6" rx="7.0" ry="1.0" fill="#7fa8d0" opacity="0.9" filter="url(#b05)" transform="rotate(-6 451.0 432.6)"/>
<g filter="url(#b05)"><ellipse cx="498.0" cy="433.3" rx="2.1" ry="0.9" fill="#f6b880" opacity="0.9" transform="rotate(-31 498.0 433.3)"/><ellipse cx="482.6" cy="424.8" rx="1.9" ry="0.9" fill="#f6b880" opacity="0.9" transform="rotate(11 482.6 424.8)"/><ellipse cx="503.6" cy="433.4" rx="1.1" ry="1.1" fill="#f09048" opacity="0.9" transform="rotate(25 503.6 433.4)"/><ellipse cx="504.7" cy="431.6" rx="2.1" ry="0.8" fill="#f09048" opacity="0.9" transform="rotate(31 504.7 431.6)"/><ellipse cx="503.1" cy="428.2" rx="1.0" ry="1.5" fill="#8fc0ea" opacity="0.9" transform="rotate(11 503.1 428.2)"/><ellipse cx="500.9" cy="432.3" rx="1.4" ry="1.1" fill="#f6b880" opacity="0.9" transform="rotate(-39 500.9 432.3)"/><ellipse cx="494.9" cy="423.3" rx="1.9" ry="1.0" fill="#8fc0ea" opacity="0.9" transform="rotate(-10 494.9 423.3)"/><ellipse cx="506.2" cy="435.8" rx="1.2" ry="1.1" fill="#f09048" opacity="0.9" transform="rotate(2 506.2 435.8)"/><ellipse cx="493.9" cy="425.8" rx="1.9" ry="0.8" fill="#f09048" opacity="0.9" transform="rotate(-20 493.9 425.8)"/><ellipse cx="492.0" cy="426.4" rx="1.1" ry="0.7" fill="#f6b880" opacity="0.9" transform="rotate(-13 492.0 426.4)"/><ellipse cx="498.2" cy="424.1" rx="1.2" ry="0.9" fill="#8fc0ea" opacity="0.9" transform="rotate(-38 498.2 424.1)"/><ellipse cx="499.7" cy="432.1" rx="1.4" ry="1.3" fill="#ffffff" opacity="0.9" transform="rotate(-25 499.7 432.1)"/><ellipse cx="502.8" cy="435.5" rx="1.0" ry="1.5" fill="#f6b880" opacity="0.9" transform="rotate(24 502.8 435.5)"/><ellipse cx="483.8" cy="429.8" rx="2.0" ry="1.2" fill="#ffffff" opacity="0.9" transform="rotate(-2 483.8 429.8)"/><ellipse cx="499.3" cy="430.3" rx="2.2" ry="0.8" fill="#f6b880" opacity="0.9" transform="rotate(6 499.3 430.3)"/><ellipse cx="510.7" cy="433.3" rx="2.0" ry="0.8" fill="#ffffff" opacity="0.9" transform="rotate(1 510.7 433.3)"/><ellipse cx="495.0" cy="434.6" rx="1.9" ry="0.8" fill="#f6b880" opacity="0.9" transform="rotate(26 495.0 434.6)"/><ellipse cx="513.4" cy="434.0" rx="2.2" ry="1.2" fill="#ffffff" opacity="0.9" transform="rotate(-36 513.4 434.0)"/><ellipse cx="489.5" cy="425.4" rx="1.1" ry="1.5" fill="#f09048" opacity="0.9" transform="rotate(-16 489.5 425.4)"/><ellipse cx="493.0" cy="429.6" rx="1.6" ry="1.1" fill="#f09048" opacity="0.9" transform="rotate(35 493.0 429.6)"/><ellipse cx="511.1" cy="432.9" rx="1.1" ry="1.1" fill="#f09048" opacity="0.9" transform="rotate(3 511.1 432.9)"/><ellipse cx="498.4" cy="423.6" rx="1.2" ry="1.5" fill="#3a86d6" opacity="0.9" transform="rotate(-13 498.4 423.6)"/><ellipse cx="493.4" cy="423.0" rx="1.0" ry="1.2" fill="#e8651f" opacity="0.9" transform="rotate(-38 493.4 423.0)"/><ellipse cx="496.0" cy="434.1" rx="1.7" ry="1.5" fill="#f09048" opacity="0.9" transform="rotate(22 496.0 434.1)"/><ellipse cx="495.7" cy="433.0" rx="2.1" ry="1.4" fill="#e8651f" opacity="0.9" transform="rotate(28 495.7 433.0)"/><ellipse cx="508.0" cy="430.7" rx="1.0" ry="1.1" fill="#f09048" opacity="0.9" transform="rotate(38 508.0 430.7)"/><ellipse cx="490.5" cy="426.1" rx="2.1" ry="1.2" fill="#ffffff" opacity="0.9" transform="rotate(-8 490.5 426.1)"/><ellipse cx="492.0" cy="431.4" rx="2.0" ry="0.7" fill="#f6b880" opacity="0.9" transform="rotate(-14 492.0 431.4)"/><ellipse cx="508.8" cy="431.1" rx="1.2" ry="0.7" fill="#ffffff" opacity="0.9" transform="rotate(-15 508.8 431.1)"/><ellipse cx="488.4" cy="425.8" rx="1.2" ry="1.5" fill="#f09048" opacity="0.9" transform="rotate(23 488.4 425.8)"/><ellipse cx="484.3" cy="425.8" rx="2.1" ry="1.3" fill="#f09048" opacity="0.9" transform="rotate(13 484.3 425.8)"/><ellipse cx="485.9" cy="428.0" rx="2.1" ry="1.1" fill="#f6b880" opacity="0.9" transform="rotate(37 485.9 428.0)"/><ellipse cx="494.6" cy="430.2" rx="1.1" ry="1.3" fill="#f09048" opacity="0.9" transform="rotate(-6 494.6 430.2)"/><ellipse cx="491.4" cy="431.3" rx="1.9" ry="1.4" fill="#f6b880" opacity="0.9" transform="rotate(35 491.4 431.3)"/><ellipse cx="497.9" cy="429.5" rx="1.4" ry="1.2" fill="#f6b880" opacity="0.9" transform="rotate(-1 497.9 429.5)"/><ellipse cx="494.7" cy="433.6" rx="1.4" ry="0.8" fill="#f6b880" opacity="0.9" transform="rotate(-34 494.7 433.6)"/><ellipse cx="492.0" cy="431.5" rx="1.3" ry="1.5" fill="#f6b880" opacity="0.9" transform="rotate(-15 492.0 431.5)"/><ellipse cx="499.4" cy="425.4" rx="1.0" ry="1.4" fill="#f6b880" opacity="0.9" transform="rotate(-21 499.4 425.4)"/><ellipse cx="487.5" cy="431.8" rx="2.0" ry="1.0" fill="#f6b880" opacity="0.9" transform="rotate(36 487.5 431.8)"/><ellipse cx="501.9" cy="435.0" rx="0.9" ry="1.4" fill="#e8651f" opacity="0.9" transform="rotate(-12 501.9 435.0)"/><ellipse cx="503.2" cy="429.4" rx="1.7" ry="1.3" fill="#3a86d6" opacity="0.9" transform="rotate(31 503.2 429.4)"/><ellipse cx="489.2" cy="424.0" rx="1.4" ry="1.4" fill="#f09048" opacity="0.9" transform="rotate(-22 489.2 424.0)"/><ellipse cx="502.7" cy="429.0" rx="1.5" ry="0.8" fill="#f09048" opacity="0.9" transform="rotate(35 502.7 429.0)"/><ellipse cx="497.6" cy="428.7" rx="1.7" ry="0.7" fill="#ffffff" opacity="0.9" transform="rotate(21 497.6 428.7)"/><ellipse cx="489.2" cy="426.4" rx="1.5" ry="1.4" fill="#f09048" opacity="0.9" transform="rotate(-14 489.2 426.4)"/><ellipse cx="494.9" cy="425.3" rx="1.1" ry="0.6" fill="#f09048" opacity="0.9" transform="rotate(-7 494.9 425.3)"/><ellipse cx="513.9" cy="432.7" rx="2.1" ry="0.8" fill="#e8651f" opacity="0.9" transform="rotate(-19 513.9 432.7)"/><ellipse cx="492.2" cy="422.8" rx="2.1" ry="1.4" fill="#f6b880" opacity="0.9" transform="rotate(3 492.2 422.8)"/><ellipse cx="502.9" cy="430.7" rx="2.0" ry="0.7" fill="#e8651f" opacity="0.9" transform="rotate(17 502.9 430.7)"/><ellipse cx="490.6" cy="429.3" rx="1.0" ry="0.7" fill="#f6b880" opacity="0.9" transform="rotate(9 490.6 429.3)"/></g><g fill="none" stroke="#44546a" stroke-width="0.45" opacity="0.85"><ellipse cx="507.9" cy="426.8" rx="1.3" ry="1.1" transform="rotate(-20 507.9 426.8)"/><ellipse cx="506.6" cy="431.2" rx="2.2" ry="0.6" transform="rotate(37 506.6 431.2)"/><ellipse cx="485.1" cy="427.0" rx="1.0" ry="1.0" transform="rotate(13 485.1 427.0)"/><ellipse cx="495.4" cy="424.2" rx="1.8" ry="0.7" transform="rotate(-36 495.4 424.2)"/><ellipse cx="511.4" cy="429.5" rx="2.2" ry="0.7" transform="rotate(-48 511.4 429.5)"/><ellipse cx="497.7" cy="427.1" rx="1.7" ry="0.9" transform="rotate(-20 497.7 427.1)"/><ellipse cx="481.6" cy="425.5" rx="2.0" ry="1.1" transform="rotate(-21 481.6 425.5)"/><ellipse cx="496.0" cy="432.3" rx="2.0" ry="0.7" transform="rotate(18 496.0 432.3)"/><ellipse cx="490.2" cy="433.1" rx="1.8" ry="1.2" transform="rotate(20 490.2 433.1)"/><ellipse cx="493.2" cy="422.8" rx="1.0" ry="1.5" transform="rotate(9 493.2 422.8)"/><ellipse cx="488.5" cy="425.0" rx="1.4" ry="0.7" transform="rotate(38 488.5 425.0)"/><ellipse cx="495.2" cy="423.5" rx="1.5" ry="1.0" transform="rotate(32 495.2 423.5)"/><ellipse cx="490.8" cy="424.8" rx="1.5" ry="1.0" transform="rotate(-44 490.8 424.8)"/><ellipse cx="504.9" cy="435.5" rx="2.0" ry="1.3" transform="rotate(-3 504.9 435.5)"/><ellipse cx="508.4" cy="428.2" rx="0.9" ry="0.8" transform="rotate(4 508.4 428.2)"/><ellipse cx="488.5" cy="426.7" rx="1.9" ry="1.2" transform="rotate(-36 488.5 426.7)"/></g><g filter="url(#b05)"><ellipse cx="475.5" cy="427.8" rx="1.7" ry="1.2" fill="#8fc0ea" opacity="0.9" transform="rotate(-12 475.5 427.8)"/><ellipse cx="473.4" cy="425.8" rx="1.8" ry="0.7" fill="#8fc0ea" opacity="0.9" transform="rotate(-14 473.4 425.8)"/><ellipse cx="469.8" cy="421.1" rx="1.4" ry="1.0" fill="#e8651f" opacity="0.9" transform="rotate(9 469.8 421.1)"/><ellipse cx="467.6" cy="424.6" rx="2.2" ry="0.7" fill="#1458ba" opacity="0.9" transform="rotate(-7 467.6 424.6)"/><ellipse cx="467.4" cy="427.3" rx="2.0" ry="1.0" fill="#f09048" opacity="0.9" transform="rotate(39 467.4 427.3)"/><ellipse cx="474.0" cy="425.0" rx="1.1" ry="1.3" fill="#8fc0ea" opacity="0.9" transform="rotate(-21 474.0 425.0)"/><ellipse cx="473.6" cy="427.3" rx="2.1" ry="1.0" fill="#3a86d6" opacity="0.9" transform="rotate(-29 473.6 427.3)"/><ellipse cx="472.9" cy="425.5" rx="1.6" ry="1.6" fill="#8fc0ea" opacity="0.9" transform="rotate(8 472.9 425.5)"/><ellipse cx="473.3" cy="428.2" rx="1.6" ry="1.1" fill="#e8651f" opacity="0.9" transform="rotate(29 473.3 428.2)"/><ellipse cx="478.5" cy="422.4" rx="0.9" ry="1.0" fill="#1458ba" opacity="0.9" transform="rotate(14 478.5 422.4)"/><ellipse cx="475.1" cy="429.4" rx="1.6" ry="1.1" fill="#ffffff" opacity="0.9" transform="rotate(19 475.1 429.4)"/><ellipse cx="472.5" cy="423.0" rx="1.9" ry="0.7" fill="#3a86d6" opacity="0.9" transform="rotate(-15 472.5 423.0)"/><ellipse cx="479.5" cy="424.2" rx="1.6" ry="1.1" fill="#8fc0ea" opacity="0.9" transform="rotate(13 479.5 424.2)"/><ellipse cx="466.2" cy="424.4" rx="1.3" ry="0.7" fill="#3a86d6" opacity="0.9" transform="rotate(-6 466.2 424.4)"/></g><g fill="none" stroke="#44546a" stroke-width="0.45" opacity="0.85"><ellipse cx="468.8" cy="424.7" rx="2.2" ry="1.4" transform="rotate(-9 468.8 424.7)"/><ellipse cx="478.3" cy="426.2" rx="1.2" ry="1.2" transform="rotate(-55 478.3 426.2)"/><ellipse cx="473.6" cy="423.6" rx="1.2" ry="0.9" transform="rotate(-22 473.6 423.6)"/><ellipse cx="470.1" cy="424.7" rx="1.5" ry="1.6" transform="rotate(36 470.1 424.7)"/><ellipse cx="477.2" cy="425.6" rx="1.8" ry="1.3" transform="rotate(-23 477.2 425.6)"/><ellipse cx="476.4" cy="425.3" rx="1.7" ry="1.2" transform="rotate(39 476.4 425.3)"/></g><g fill="#7fa8d0" fill-opacity="0.6" stroke="#4a5666" stroke-width="0.45" opacity="0.9"><ellipse cx="390.1" cy="413.8" rx="3.6" ry="0.9" transform="rotate(6 390.1 413.8)"/><ellipse cx="403.0" cy="415.1" rx="3.8" ry="0.8" transform="rotate(6 403.0 415.1)"/><ellipse cx="403.0" cy="415.5" rx="2.8" ry="1.5" transform="rotate(6 403.0 415.5)"/><ellipse cx="383.5" cy="413.2" rx="3.9" ry="1.2" transform="rotate(6 383.5 413.2)"/><ellipse cx="347.6" cy="409.4" rx="2.8" ry="0.7" transform="rotate(6 347.6 409.4)"/><ellipse cx="396.0" cy="414.4" rx="2.6" ry="1.4" transform="rotate(6 396.0 414.4)"/><ellipse cx="446.6" cy="421.9" rx="3.2" ry="0.8" transform="rotate(6 446.6 421.9)"/><ellipse cx="308.9" cy="404.9" rx="2.3" ry="0.9" transform="rotate(6 308.9 404.9)"/><ellipse cx="441.7" cy="420.8" rx="1.9" ry="1.0" transform="rotate(6 441.7 420.8)"/><ellipse cx="338.3" cy="408.5" rx="1.6" ry="1.1" transform="rotate(6 338.3 408.5)"/><ellipse cx="348.1" cy="409.3" rx="2.0" ry="0.8" transform="rotate(6 348.1 409.3)"/><ellipse cx="305.2" cy="404.7" rx="3.4" ry="1.1" transform="rotate(6 305.2 404.7)"/><ellipse cx="319.6" cy="407.0" rx="1.9" ry="1.0" transform="rotate(6 319.6 407.0)"/><ellipse cx="309.1" cy="405.9" rx="2.1" ry="0.9" transform="rotate(6 309.1 405.9)"/><ellipse cx="403.3" cy="415.7" rx="2.7" ry="1.0" transform="rotate(6 403.3 415.7)"/><ellipse cx="385.2" cy="412.9" rx="2.3" ry="0.8" transform="rotate(6 385.2 412.9)"/><ellipse cx="376.0" cy="412.4" rx="3.5" ry="0.8" transform="rotate(6 376.0 412.4)"/><ellipse cx="437.9" cy="421.3" rx="2.9" ry="1.1" transform="rotate(6 437.9 421.3)"/><ellipse cx="349.8" cy="408.8" rx="3.3" ry="0.8" transform="rotate(6 349.8 408.8)"/><ellipse cx="378.2" cy="412.3" rx="1.7" ry="0.8" transform="rotate(6 378.2 412.3)"/></g>
<path d="M291.3,405.74 L292.3,405.80 Q377.4,411.9 462.4,426.0 Q377.4,437.6 292.3,445.30 L291.3,445.30 Z" fill="#fff" stroke="#585858" stroke-width="0.6"/>
</g>
<text x="290.90" y="387.93" font-size="8.3" text-anchor="end" fill="#111" stroke="#111" stroke-width="0.12" >25</text>
<text x="290.90" y="429.03" font-size="8.3" text-anchor="end" fill="#111" stroke="#111" stroke-width="0.12" >0</text>
<text x="290.90" y="469.31" font-size="8.3" text-anchor="end" fill="#111" stroke="#111" stroke-width="0.12" >−25</text>
<text x="294.30" y="476.60" font-size="8.3" text-anchor="middle" fill="#111" stroke="#111" stroke-width="0.12" >150</text>
<text x="334.80" y="476.60" font-size="8.3" text-anchor="middle" fill="#111" stroke="#111" stroke-width="0.12" >175</text>
<text x="376.80" y="476.60" font-size="8.3" text-anchor="middle" fill="#111" stroke="#111" stroke-width="0.12" >200</text>
<text x="419.10" y="476.60" font-size="8.3" text-anchor="middle" fill="#111" stroke="#111" stroke-width="0.12" >225</text>
<text x="460.90" y="476.60" font-size="8.3" text-anchor="middle" fill="#111" stroke="#111" stroke-width="0.12" >250</text>
<text x="503.60" y="476.60" font-size="8.3" text-anchor="middle" fill="#111" stroke="#111" stroke-width="0.12" >275</text>
<text x="394.80" y="484.40" font-size="11.2" text-anchor="middle" fill="#111" stroke="#111" stroke-width="0.12"  textLength="32.6" lengthAdjust="spacingAndGlyphs"><tspan font-style="italic">x</tspan> [mm]</text>
<text x="0.00" y="0.00" font-size="11.2" text-anchor="middle" fill="#111" stroke="#111" stroke-width="0.12" transform="translate(275.8,428.8) rotate(-90)" textLength="31.6" lengthAdjust="spacingAndGlyphs"><tspan font-style="italic">y</tspan> [mm]</text>
<text x="36.20" y="28.40" font-size="9.0" text-anchor="start" fill="#e3c23a" stroke="#e3c23a" stroke-width="0.12" >Deposition area</text>
<line x1="79" y1="31.4" x2="92.4" y2="44.4" stroke="#e3c23a" stroke-width="0.8"/><circle cx="92.4" cy="44.4" r="1" fill="#e3c23a"/>
<line x1="95" y1="44" x2="95" y2="59.6" stroke="#e3c23a" stroke-width="1"/>
<g clip-path="url(#ca1)">
<path d="M180.6,160.4 C177.6,165 177.0,183 179.4,189 C182.8,186 183.8,166 180.6,160.4Z" fill="#f7fafc"/>
<path d="M181.3,163 C182.9,170 182.7,182 180.9,187" fill="none" stroke="#f0b088" stroke-width="0.6"/>
<path d="M178.6,165 C177.7,172 177.9,182 178.9,186" fill="none" stroke="#a8cdee" stroke-width="0.6"/>
<path d="M187.6,143 C188.4,150 191.4,156 193.6,162 C195.6,168 195.8,178 194.2,185 C192.8,191 190.6,196 188.2,201.6" fill="none" stroke="#f7fafc" stroke-width="4.4" stroke-linecap="round"/>
<ellipse cx="187.6" cy="146.4" rx="2.7" ry="5.8" fill="#f7fafc" transform="rotate(-8 187.6 146.4)"/>
<ellipse cx="188.2" cy="200.4" rx="2.4" ry="4.6" fill="#f7fafc" transform="rotate(24 188.2 200.4)"/>
<path d="M189.2,164 C190.2,170 190,180 188.8,186" fill="none" stroke="#f0a070" stroke-width="0.8"/>
<path d="M190.6,160 C191.8,168 191.6,182 190.0,190" fill="none" stroke="#9cc6ea" stroke-width="0.8"/>
<path d="M187.4,168 C187.8,173 187.6,178 187.2,182" fill="none" stroke="#e8a070" stroke-width="0.5"/>
<path d="M196.4,160 C198.0,168 198.0,182 196.0,190" fill="none" stroke="#b4d4ee" stroke-width="1.2"/>
</g>
<text x="150.60" y="214.40" font-size="9.6" text-anchor="middle" fill="#fff" stroke="#fff" stroke-width="0.12" >ASV</text>
<g stroke="#fff" stroke-width="0.9" fill="none"><line x1="161.6" y1="205.2" x2="177" y2="190.4" marker-end="url(#arW)"/><line x1="161.6" y1="205.2" x2="186" y2="199.4" marker-end="url(#arW)"/></g>
<text x="242.30" y="126.20" font-size="11.2" text-anchor="start" fill="#111" stroke="#111" stroke-width="0.12"  textLength="46.5" lengthAdjust="spacingAndGlyphs"><tspan font-style="italic">t</tspan> = 2.5 ms</text>
<text x="235.20" y="250.20" font-size="11.2" text-anchor="start" fill="#111" stroke="#111" stroke-width="0.12"  textLength="51.4" lengthAdjust="spacingAndGlyphs"><tspan font-style="italic">t</tspan> = 16.0 ms</text>
<text x="233.30" y="375.00" font-size="11.2" text-anchor="start" fill="#111" stroke="#111" stroke-width="0.12"  textLength="51.8" lengthAdjust="spacingAndGlyphs"><tspan font-style="italic">t</tspan> = 30.0 ms</text>
<text x="235.20" y="499.70" font-size="11.2" text-anchor="start" fill="#111" stroke="#111" stroke-width="0.12"  textLength="51.4" lengthAdjust="spacingAndGlyphs"><tspan font-style="italic">t</tspan> = 47.0 ms</text>
<rect x="99" y="505.3" width="62.6" height="7.8" fill="url(#cbar)"/>
<rect x="361.6" y="504.6" width="64.4" height="7.6" fill="url(#cbar)"/>
<text x="97.60" y="521.20" font-size="8.3" text-anchor="middle" fill="#111" stroke="#111" stroke-width="0.12" >−1.0 × 10<tspan font-size="5.6" dy="-3">4</tspan></text>
<text x="163.60" y="521.20" font-size="8.3" text-anchor="middle" fill="#111" stroke="#111" stroke-width="0.12" >1.0 × 10<tspan font-size="5.6" dy="-3">4</tspan></text>
<text x="132.20" y="529.20" font-size="9.2" text-anchor="middle" fill="#111" stroke="#111" stroke-width="0.12" ><tspan font-weight="bold">Ω</tspan><tspan font-size="5.8" dy="1.6" font-style="italic">x</tspan><tspan dy="-1.6"> [1/s]</tspan></text>
<text x="363.00" y="522.20" font-size="8.6" text-anchor="middle" fill="#111" stroke="#111" stroke-width="0.12" >−60.0</text>
<text x="425.40" y="522.20" font-size="8.6" text-anchor="middle" fill="#111" stroke="#111" stroke-width="0.12" >60.0</text>
<text x="397.40" y="530.20" font-size="8.6" text-anchor="middle" fill="#111" stroke="#111" stroke-width="0.12" ><tspan font-style="italic">p</tspan>′ <tspan font-weight="bold">[Pa]</tspan></text>
<text x="128.20" y="544.60" font-size="10.4" text-anchor="middle" fill="#111" stroke="#111" stroke-width="0.12"  textLength="123" lengthAdjust="spacingAndGlyphs">(<tspan font-weight="bold">a</tspan>) Visualization of vortices</text>
<text x="392.00" y="545.00" font-size="10.4" text-anchor="middle" fill="#111" stroke="#111" stroke-width="0.12"  textLength="121" lengthAdjust="spacingAndGlyphs">(<tspan font-weight="bold">b</tspan>) Pressure fluctuations <tspan font-style="italic">p</tspan>′</text>
</svg></body></html>
